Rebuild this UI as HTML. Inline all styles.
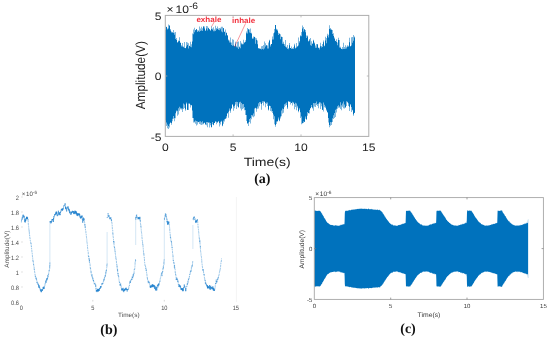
<!DOCTYPE html>
<html lang="en"><head><meta charset="utf-8"><title>Figure</title>
<style>html,body{margin:0;padding:0;background:#fff;}body{width:550px;height:340px;overflow:hidden;font-family:"Liberation Sans",sans-serif;}</style>
</head><body>
<svg width="550" height="340" viewBox="0 0 550 340" style="display:block;text-rendering:geometricPrecision">
<path d="M165.5 76.0V30.1h.5V26.9h.5V26.7h.5V29.4h.5V28.4h.5V24.4h.5V28.6h.5V25.1h.5V26.0h.5V28.9h.5V30.6h.5V31.6h.5V32.5h.5V32.2h.5V32.6h.5V33.0h.5V30.0h.5V32.6h.5V34.8h.5V32.0h.5V39.1h.5V40.1h.5V37.9h.5V42.0h.5V42.7h.5V40.6h.5V41.4h.5V37.2h.5V40.9h.5V42.4h.5V43.1h.5V45.2h.5V46.4h.5V46.4h.5V42.9h.5V47.2h.5V46.5h.5V48.1h.5V42.1h.5V48.2h.5V48.0h.5V42.0h.5V46.4h.5V42.4h.5V45.0h.5V43.2h.5V48.6h.5V45.8h.5V46.1h.5V41.7h.5V46.8h.5V44.3h.5V47.2h.5V41.4h.5V33.6h.5V34.2h.5V29.6h.5V32.3h.5V27.7h.5V30.3h.5V29.9h.5V29.3h.5V28.9h.5V31.9h.5V30.3h.5V31.3h.5V30.3h.5V31.8h.5V26.4h.5V31.1h.5V28.4h.5V30.5h.5V26.8h.5V28.2h.5V31.1h.5V26.8h.5V26.1h.5V26.4h.5V28.5h.5V30.8h.5V30.6h.5V26.1h.5V28.5h.5V30.5h.5V26.3h.5V27.8h.5V28.3h.5V29.4h.5V29.1h.5V30.0h.5V30.9h.5V26.2h.5V28.9h.5V28.4h.5V29.8h.5V27.2h.5V31.2h.5V29.6h.5V31.2h.5V30.9h.5V25.8h.5V28.0h.5V29.4h.5V28.9h.5V26.6h.5V30.0h.5V28.6h.5V28.1h.5V30.2h.5V29.3h.5V27.8h.5V26.8h.5V31.6h.5V26.8h.5V32.2h.5V28.2h.5V27.9h.5V32.0h.5V31.4h.5V29.6h.5V35.4h.5V33.0h.5V32.6h.5V35.8h.5V35.0h.5V39.5h.5V40.6h.5V40.6h.5V42.6h.5V42.6h.5V37.5h.5V42.5h.5V44.9h.5V45.8h.5V39.3h.5V45.6h.5V39.7h.5V46.0h.5V46.2h.5V41.7h.5V43.8h.5V45.7h.5V47.2h.5V42.1h.5V47.4h.5V41.5h.5V49.1h.5V47.3h.5V46.6h.5V41.0h.5V48.2h.5V42.8h.5V44.3h.5V43.7h.5V44.5h.5V39.8h.5V44.2h.5V42.6h.5V42.6h.5V42.0h.5V40.3h.5V33.2h.5V31.5h.5V33.6h.5V28.1h.5V29.3h.5V29.3h.5V29.6h.5V32.6h.5V28.6h.5V33.1h.5V32.7h.5V33.7h.5V37.7h.5V39.1h.5V38.5h.5V36.4h.5V36.9h.5V36.8h.5V43.8h.5V37.8h.5V39.9h.5V38.2h.5V44.3h.5V40.4h.5V48.1h.5V48.4h.5V48.7h.5V48.2h.5V48.5h.5V49.0h.5V46.3h.5V49.4h.5V46.1h.5V49.1h.5V45.1h.5V49.4h.5V48.4h.5V41.5h.5V46.6h.5V43.3h.5V45.1h.5V45.5h.5V48.5h.5V45.6h.5V48.5h.5V42.6h.5V39.8h.5V40.8h.5V46.6h.5V44.7h.5V44.1h.5V43.9h.5V39.4h.5V36.6h.5V39.5h.5V33.3h.5V29.1h.5V32.6h.5V25.1h.5V25.0h.5V29.7h.5V28.8h.5V29.5h.5V30.8h.5V35.0h.5V32.7h.5V33.9h.5V33.2h.5V34.3h.5V39.2h.5V37.0h.5V36.4h.5V36.9h.5V43.8h.5V43.7h.5V41.7h.5V45.8h.5V44.1h.5V40.1h.5V46.7h.5V47.8h.5V46.7h.5V44.9h.5V49.1h.5V48.0h.5V49.2h.5V45.3h.5V43.1h.5V48.0h.5V48.0h.5V46.6h.5V48.9h.5V48.8h.5V48.3h.5V47.2h.5V49.0h.5V43.8h.5V45.6h.5V47.7h.5V48.5h.5V43.1h.5V47.4h.5V46.7h.5V46.0h.5V45.4h.5V37.6h.5V42.4h.5V41.0h.5V35.3h.5V36.3h.5V36.3h.5V32.1h.5V25.4h.5V28.4h.5V27.1h.5V31.4h.5V28.9h.5V29.5h.5V30.1h.5V32.3h.5V35.5h.5V38.0h.5V36.5h.5V35.5h.5V40.7h.5V41.4h.5V40.4h.5V39.1h.5V38.0h.5V45.2h.5V45.7h.5V41.2h.5V43.8h.5V43.4h.5V39.7h.5V40.8h.5V42.5h.5V43.6h.5V47.8h.5V45.5h.5V47.7h.5V44.1h.5V44.1h.5V44.6h.5V47.5h.5V48.0h.5V47.7h.5V49.4h.5V42.8h.5V46.3h.5V47.5h.5V46.0h.5V43.9h.5V47.1h.5V42.2h.5V40.4h.5V45.6h.5V46.2h.5V40.6h.5V36.7h.5V43.2h.5V38.0h.5V35.8h.5V33.8h.5V37.4h.5V34.7h.5V25.3h.5V29.0h.5V29.4h.5V28.1h.5V30.1h.5V29.2h.5V33.9h.5V30.0h.5V36.1h.5V33.2h.5V38.8h.5V37.6h.5V40.9h.5V40.8h.5V41.9h.5V39.2h.5V42.4h.5V45.2h.5V37.7h.5V39.9h.5V40.1h.5V47.4h.5V46.8h.5V48.0h.5V48.7h.5V49.1h.5V46.9h.5V49.2h.5V49.1h.5V42.7h.5V47.1h.5V49.0h.5V45.2h.5V48.7h.5V46.7h.5V48.6h.5V46.7h.5V45.2h.5V45.8h.5V46.7h.5V42.3h.5V37.8h.5V46.5h.5V46.0h.5V45.5h.5V37.2h.5V37.1h.5V42.8h.5V35.1h.5V40.7h.5V37.6h.5V36.6h.5V76.0V113.0h-.5V112.7h-.5V114.2h-.5V115.7h-.5V110.5h-.5V109.8h-.5V112.0h-.5V106.9h-.5V105.2h-.5V104.1h-.5V110.9h-.5V106.7h-.5V105.9h-.5V103.3h-.5V102.6h-.5V101.8h-.5V106.0h-.5V101.3h-.5V108.1h-.5V107.0h-.5V108.4h-.5V104.5h-.5V108.2h-.5V101.4h-.5V106.7h-.5V103.4h-.5V110.2h-.5V105.2h-.5V102.3h-.5V109.1h-.5V107.8h-.5V106.4h-.5V105.3h-.5V107.7h-.5V106.3h-.5V108.8h-.5V112.5h-.5V108.7h-.5V109.7h-.5V117.0h-.5V113.0h-.5V117.9h-.5V115.3h-.5V119.0h-.5V121.9h-.5V118.2h-.5V125.0h-.5V122.2h-.5V121.9h-.5V125.7h-.5V125.1h-.5V127.2h-.5V122.4h-.5V117.9h-.5V112.8h-.5V111.9h-.5V109.6h-.5V110.7h-.5V106.6h-.5V107.9h-.5V104.7h-.5V107.3h-.5V111.6h-.5V102.4h-.5V110.1h-.5V109.8h-.5V103.6h-.5V106.2h-.5V102.6h-.5V109.0h-.5V102.1h-.5V103.4h-.5V103.4h-.5V108.2h-.5V103.9h-.5V106.1h-.5V105.1h-.5V101.6h-.5V106.9h-.5V103.0h-.5V103.3h-.5V106.6h-.5V110.8h-.5V103.1h-.5V107.6h-.5V108.6h-.5V107.1h-.5V105.1h-.5V108.3h-.5V108.2h-.5V113.6h-.5V110.1h-.5V112.9h-.5V113.3h-.5V111.9h-.5V115.7h-.5V118.9h-.5V120.0h-.5V116.5h-.5V118.8h-.5V121.7h-.5V122.1h-.5V121.3h-.5V123.0h-.5V123.5h-.5V122.9h-.5V124.2h-.5V116.4h-.5V112.2h-.5V118.0h-.5V109.7h-.5V108.3h-.5V111.0h-.5V112.2h-.5V107.4h-.5V105.7h-.5V110.3h-.5V103.5h-.5V107.0h-.5V102.7h-.5V109.2h-.5V103.9h-.5V103.2h-.5V102.3h-.5V105.4h-.5V101.7h-.5V103.1h-.5V103.1h-.5V104.5h-.5V101.7h-.5V101.5h-.5V102.0h-.5V101.3h-.5V101.5h-.5V109.1h-.5V107.6h-.5V104.9h-.5V102.5h-.5V103.5h-.5V105.7h-.5V104.3h-.5V107.3h-.5V109.1h-.5V112.8h-.5V113.5h-.5V108.5h-.5V116.3h-.5V110.6h-.5V116.5h-.5V118.4h-.5V120.4h-.5V121.2h-.5V119.6h-.5V117.4h-.5V121.8h-.5V120.9h-.5V121.4h-.5V124.1h-.5V125.0h-.5V126.7h-.5V124.2h-.5V116.2h-.5V119.3h-.5V114.4h-.5V111.1h-.5V113.0h-.5V108.2h-.5V111.6h-.5V106.1h-.5V110.9h-.5V105.9h-.5V105.4h-.5V110.5h-.5V109.5h-.5V102.4h-.5V105.9h-.5V102.6h-.5V104.0h-.5V102.9h-.5V107.3h-.5V101.3h-.5V102.0h-.5V101.3h-.5V105.4h-.5V103.1h-.5V101.3h-.5V104.1h-.5V109.8h-.5V103.5h-.5V101.9h-.5V106.3h-.5V102.1h-.5V108.4h-.5V103.2h-.5V106.4h-.5V108.8h-.5V108.5h-.5V111.7h-.5V108.2h-.5V107.7h-.5V108.4h-.5V116.2h-.5V117.3h-.5V113.5h-.5V115.2h-.5V116.4h-.5V115.1h-.5V119.2h-.5V123.4h-.5V118.0h-.5V119.0h-.5V122.0h-.5V125.9h-.5V122.4h-.5V123.1h-.5V123.9h-.5V120.9h-.5V114.9h-.5V115.1h-.5V110.1h-.5V110.3h-.5V107.0h-.5V108.2h-.5V103.9h-.5V104.3h-.5V109.1h-.5V102.9h-.5V110.5h-.5V108.4h-.5V101.7h-.5V101.9h-.5V103.6h-.5V107.3h-.5V107.6h-.5V106.2h-.5V101.9h-.5V101.8h-.5V108.9h-.5V101.9h-.5V104.5h-.5V105.8h-.5V108.2h-.5V110.7h-.5V106.5h-.5V104.6h-.5V104.5h-.5V108.5h-.5V108.4h-.5V110.5h-.5V112.8h-.5V108.6h-.5V110.8h-.5V111.8h-.5V117.8h-.5V113.0h-.5V113.8h-.5V118.2h-.5V116.2h-.5V118.5h-.5V118.9h-.5V119.3h-.5V121.6h-.5V120.6h-.5V123.7h-.5V125.6h-.5V126.2h-.5V121.7h-.5V120.8h-.5V124.6h-.5V121.8h-.5V123.1h-.5V126.4h-.5V121.3h-.5V121.5h-.5V122.8h-.5V122.2h-.5V121.7h-.5V124.2h-.5V121.6h-.5V121.6h-.5V123.0h-.5V123.1h-.5V125.3h-.5V124.7h-.5V124.3h-.5V121.9h-.5V127.1h-.5V127.4h-.5V125.2h-.5V123.1h-.5V127.5h-.5V122.6h-.5V122.8h-.5V122.5h-.5V127.2h-.5V121.9h-.5V125.3h-.5V122.1h-.5V124.5h-.5V124.6h-.5V123.0h-.5V122.5h-.5V124.3h-.5V123.2h-.5V121.3h-.5V124.4h-.5V122.3h-.5V125.1h-.5V124.6h-.5V121.2h-.5V121.4h-.5V124.0h-.5V122.0h-.5V122.2h-.5V124.6h-.5V121.6h-.5V125.4h-.5V120.9h-.5V120.6h-.5V123.8h-.5V122.5h-.5V121.4h-.5V122.5h-.5V118.0h-.5V117.9h-.5V110.4h-.5V105.2h-.5V105.2h-.5V104.8h-.5V107.5h-.5V103.6h-.5V103.8h-.5V109.9h-.5V103.4h-.5V109.9h-.5V109.8h-.5V103.8h-.5V102.5h-.5V110.7h-.5V109.3h-.5V108.1h-.5V104.5h-.5V108.9h-.5V103.6h-.5V112.1h-.5V108.4h-.5V109.5h-.5V108.2h-.5V107.8h-.5V109.3h-.5V106.8h-.5V110.7h-.5V114.6h-.5V108.3h-.5V115.7h-.5V110.7h-.5V110.5h-.5V111.4h-.5V118.3h-.5V113.3h-.5V117.9h-.5V121.2h-.5V115.9h-.5V118.7h-.5V121.3h-.5V118.7h-.5V124.7h-.5V123.0h-.5V122.9h-.5V122.3h-.5V123.8h-.5V127.5h-.5V125.9h-.5V129.1h-.5V128.2h-.5V124.6h-.5V126.0h-.5V122.6h-.5V120.3h-.5Z" fill="#0072BD"/>
<rect x="165.3" y="15.4" width="203.5" height="121.0" fill="none" stroke="#adadad" stroke-width="1"/>
<path d="M233.1 136.4v-2M233.1 15.4v2" stroke="#adadad" stroke-width="0.8"/>
<path d="M301.0 136.4v-2M301.0 15.4v2" stroke="#adadad" stroke-width="0.8"/>
<path d="M165.3 76.0h2M368.8 76.0h-2" stroke="#adadad" stroke-width="0.8"/>
<g font-family="Liberation Sans, Arial, sans-serif" fill="#222222">
<text transform="translate(161.6 19.5) scale(1.12 1)" font-size="10.8" text-anchor="end">5</text>
<text transform="translate(161.6 80.1) scale(1.12 1)" font-size="10.8" text-anchor="end">0</text>
<text transform="translate(161.6 140.5) scale(1.12 1)" font-size="10.8" text-anchor="end">-5</text>
<text transform="translate(165.3 151.2) scale(1.12 1)" font-size="10.8" text-anchor="middle">0</text>
<text transform="translate(233.1 151.2) scale(1.12 1)" font-size="10.8" text-anchor="middle">5</text>
<text transform="translate(301.0 151.2) scale(1.12 1)" font-size="10.8" text-anchor="middle">10</text>
<text transform="translate(368.8 151.2) scale(1.12 1)" font-size="10.8" text-anchor="middle">15</text>
<text transform="translate(166.6 12.9) scale(1.12 1)" font-size="10.8" text-anchor="start">×<tspan dx="1.6">10</tspan><tspan dy="-4.4" font-size="9.2">-6</tspan></text>
<text transform="translate(267.2 165.8) scale(1.18 1)" font-size="11.9" text-anchor="middle">Time(s)</text>
<text transform="translate(145.0 75.2) scale(1.12 1) rotate(-90)" font-size="11.8" text-anchor="middle">Amplitude(V)</text>
</g>
<g font-family="Liberation Sans, Arial, sans-serif" font-weight="bold" fill="#f2323f" font-size="7.7">
<text x="196.4" y="21.8" textLength="25" lengthAdjust="spacingAndGlyphs">exhale</text>
<text x="232" y="23.1" textLength="23.2" lengthAdjust="spacingAndGlyphs">inhale</text>
</g>
<path d="M214.2 22L211.6 26.5M245.6 23.4L234.5 47" stroke="#f2323f" stroke-width="0.5" fill="none"/>
<text x="262.3" y="183.4" font-family="Liberation Serif, serif" font-weight="bold" font-size="14" text-anchor="middle" fill="#111">(a)</text>
<path d="M21.30 222.43 L21.41 222.41 L21.52 219.73 L21.63 220.36 L21.74 218.75 L21.85 219.01 L21.96 218.50 L22.07 219.57 L22.18 218.61 L22.29 216.47 L22.40 219.23 L22.51 217.00 L22.63 216.02 L22.74 216.55 L22.85 215.79 L22.96 215.06 L23.07 215.90 L23.18 214.69 L23.29 216.05M27.37 218.49 L27.48 219.01 L27.59 217.08 L27.70 219.12 L27.82 219.60 L27.93 219.03 L28.04 220.42 L28.15 219.87 L28.26 222.59 L28.37 224.36 L28.48 225.10 L28.59 225.79 L28.70 227.06 L28.81 228.40 L28.92 229.33 L29.03 230.21 L29.14 231.56 L29.25 230.82 L29.36 233.15 L29.47 235.11 L29.58 235.91 L29.69 235.67 L29.80 236.82 L29.91 238.26 L30.02 238.82 L30.13 238.74 L30.24 240.42 L30.35 240.91 L30.47 240.92 L30.58 242.28 L30.69 242.51 L30.80 242.41 L30.91 243.57 L31.02 244.19 L31.13 243.43 L31.24 245.31 L31.35 246.82 L31.46 246.55 L31.57 247.92 L31.68 250.04 L31.79 250.16 L31.90 251.35 L32.01 252.78 L32.12 252.80 L32.23 253.43 L32.34 254.94 L32.45 256.76 L32.56 256.73 L32.67 257.72 L32.78 259.00 L32.89 260.96 L33.01 260.55 L33.12 262.16 L33.23 262.12 L33.34 261.53 L33.45 263.89 L33.56 264.81 L33.67 264.10 L33.78 265.69 L33.89 266.40 L34.00 266.27 L34.11 266.61 L34.22 270.00 L34.33 269.22 L34.44 269.86 L34.55 271.09 L34.66 272.18 L34.77 272.62 L34.88 272.67 L34.99 274.47 L35.10 274.15 L35.21 274.88 L35.32 276.82 L35.43 276.36 L35.54 275.83 L35.66 277.35 L35.77 277.85 L35.88 277.83 L35.99 279.06 L36.10 277.80 L36.21 277.61 L36.32 279.45 L36.43 279.31 L36.54 278.38 L36.65 280.43 L36.76 280.61 L36.87 282.51 L36.98 283.10 L37.09 283.21 L37.20 281.70 L37.31 284.08 L37.42 283.81 L37.53 283.84 L37.64 283.83 L37.75 284.06 L37.86 284.17 L37.97 282.89 L38.08 284.58 L38.19 284.12 L38.31 285.02 L38.42 284.42 L38.53 286.39 L38.64 284.83 L38.75 285.31M44.05 288.67 L44.16 287.95 L44.27 287.82 L44.38 287.50 L44.49 286.34 L44.60 286.76 L44.71 285.93 L44.82 285.61 L44.93 285.94 L45.04 283.75 L45.15 283.94 L45.26 283.62 L45.37 283.98 L45.48 282.77 L45.59 281.29 L45.70 282.33 L45.81 280.07 L45.92 280.02 L46.04 280.34 L46.15 282.90 L46.26 280.80 L46.37 279.81 L46.48 279.31 L46.59 278.72 L46.70 281.06 L46.81 278.29 L46.92 279.05 L47.03 278.22 L47.14 280.31 L47.25 278.36 L47.36 278.92 L47.47 277.69 L47.58 278.64 L47.69 277.28 L47.80 275.01 L47.91 276.90 L48.02 277.43 L48.13 276.81 L48.24 276.24 L48.35 274.63 L48.46 273.86 L48.57 274.55 L48.69 274.66 L48.80 271.97 L48.91 271.88 L49.02 271.36 L49.13 270.22 L49.24 271.22 L49.35 269.69 L49.46 269.61 L49.57 268.48 L49.68 265.40 L49.79 266.04 L49.90 262.38M83.85 218.24 L83.96 218.61 L84.07 220.28 L84.18 218.95 L84.29 219.72 L84.40 221.52 L84.51 221.66 L84.62 222.46 L84.73 224.40 L84.84 225.63 L84.95 224.27 L85.06 227.47 L85.17 226.00 L85.28 226.70 L85.39 228.01 L85.50 230.11 L85.61 230.08 L85.72 231.10 L85.83 231.28 L85.94 233.30 L86.05 233.72 L86.16 233.87 L86.27 234.96 L86.38 236.15 L86.49 237.46 L86.60 237.64 L86.71 239.21 L86.82 239.65 L86.93 242.17 L87.04 242.26 L87.15 243.18 L87.26 244.31 L87.37 244.70 L87.48 246.16 L87.59 248.40 L87.70 248.55 L87.81 250.42 L87.92 250.63 L88.03 251.19 L88.14 251.63 L88.25 252.42 L88.36 255.50 L88.47 256.84 L88.58 255.99 L88.69 256.16 L88.80 255.98 L88.92 257.75 L89.03 259.26 L89.14 258.23 L89.25 260.39 L89.36 262.18 L89.47 259.78 L89.58 262.86 L89.69 262.96 L89.80 263.07 L89.91 262.94 L90.02 264.51 L90.13 264.70 L90.24 267.69 L90.35 268.71 L90.46 267.85 L90.57 268.56 L90.68 270.04 L90.79 270.28 L90.90 271.02 L91.01 272.58 L91.12 271.53 L91.23 273.37 L91.34 274.35 L91.45 274.75 L91.56 274.90 L91.67 275.54 L91.78 275.09 L91.89 276.37 L92.00 275.11 L92.11 274.44 L92.22 277.02 L92.33 277.65 L92.44 277.11 L92.55 278.07 L92.66 278.27 L92.77 279.24 L92.88 277.77 L92.99 279.62 L93.10 280.38 L93.21 279.92 L93.32 281.20 L93.43 281.10 L93.54 279.98 L93.65 281.78 L93.76 281.22 L93.87 282.97 L93.98 283.08 L94.09 283.24 L94.21 283.07 L94.32 284.31 L94.43 284.29 L94.54 283.59 L94.65 283.86 L94.76 284.05 L94.87 284.21 L94.98 282.89 L95.09 283.64 L95.20 283.84 L95.31 284.08 L95.42 284.89 L95.53 284.70 L95.64 286.96 L95.75 284.79 L95.86 286.64 L95.97 288.20 L96.08 289.51M100.82 286.11 L100.93 286.35 L101.04 286.74 L101.15 287.08 L101.26 287.24 L101.37 287.33 L101.48 286.47 L101.59 285.52 L101.70 284.30 L101.81 283.36 L101.92 283.99 L102.03 283.44 L102.14 284.29 L102.25 284.95 L102.36 283.34 L102.47 282.84 L102.58 282.67 L102.69 283.12 L102.80 284.02 L102.91 283.41 L103.02 282.52 L103.13 282.06 L103.24 282.04 L103.35 281.53 L103.46 281.67 L103.57 282.11 L103.68 280.90 L103.79 279.40 L103.90 280.88 L104.01 279.18 L104.12 278.84 L104.23 278.64 L104.34 279.59 L104.45 277.13 L104.57 277.68 L104.68 277.95 L104.79 277.99 L104.90 277.23 L105.01 276.24 L105.12 276.34 L105.23 274.87 L105.34 276.52 L105.45 276.52 L105.56 274.69 L105.67 274.15 L105.78 272.26 L105.89 273.70 L106.00 271.27 L106.11 271.38 L106.22 270.04 L106.33 271.43 L106.44 269.68 L106.55 269.41 L106.66 269.02 L106.77 267.25 L106.88 264.86 L106.99 264.77 L107.10 263.59M107.10 218.06 L107.21 217.00 L107.32 217.08 L107.43 216.92 L107.54 217.22 L107.65 217.31 L107.76 216.49 L107.87 215.31 L107.98 215.34 L108.09 213.12 L108.20 214.57 L108.31 214.97 L108.43 215.55 L108.54 216.58 L108.65 217.22 L108.76 215.19 L108.87 216.58 L108.98 216.31 L109.09 215.53 L109.20 216.32 L109.31 217.58 L109.42 216.74 L109.53 217.78 L109.64 218.47 L109.75 217.95 L109.86 219.18 L109.97 218.66M111.19 219.28 L111.30 219.86 L111.41 221.06 L111.52 219.53 L111.63 221.69 L111.74 222.49 L111.85 222.43 L111.96 222.61 L112.07 224.67 L112.18 225.06 L112.29 227.43 L112.40 229.02 L112.51 229.85 L112.62 230.18 L112.73 230.18 L112.84 234.13 L112.95 233.36 L113.06 236.32 L113.17 236.49 L113.28 236.87 L113.39 238.63 L113.50 239.41 L113.62 242.00 L113.73 241.32 L113.84 243.48 L113.95 241.54 L114.06 245.20 L114.17 246.36 L114.28 247.06 L114.39 246.82 L114.50 248.11 L114.61 247.25 L114.72 249.08 L114.83 248.82 L114.94 251.10 L115.05 251.94 L115.16 251.17 L115.27 253.31 L115.38 254.31 L115.49 254.32 L115.60 256.37 L115.71 256.79 L115.82 256.42 L115.93 258.82 L116.04 258.31 L116.15 259.64 L116.27 259.60 L116.38 260.95 L116.49 263.02 L116.60 263.46 L116.71 264.56 L116.82 263.96 L116.93 264.67 L117.04 267.31 L117.15 266.33 L117.26 268.53 L117.37 269.42 L117.48 270.96 L117.59 269.18 L117.70 272.16 L117.81 272.05 L117.92 273.80 L118.03 272.82 L118.14 275.90 L118.25 275.26 L118.36 275.08 L118.47 277.04 L118.58 276.96 L118.69 276.32 L118.81 278.76 L118.92 279.29 L119.03 279.89 L119.14 281.19 L119.25 281.31 L119.36 282.39 L119.47 282.26 L119.58 283.16 L119.69 282.30 L119.80 283.02 L119.91 283.36 L120.02 285.72 L120.13 284.12 L120.24 284.70 L120.35 285.08 L120.46 285.61 L120.57 284.63 L120.68 283.36 L120.79 285.62 L120.90 285.25 L121.01 285.28 L121.12 285.34 L121.23 287.83 L121.34 288.09 L121.46 289.54 L121.57 288.53 L121.68 288.13 L121.79 288.55M128.52 288.73 L128.63 288.39 L128.74 288.08 L128.85 286.68 L128.96 286.72 L129.07 286.01 L129.18 285.78 L129.30 285.68 L129.41 286.00 L129.52 284.14 L129.63 283.30 L129.74 283.07 L129.85 283.03 L129.96 280.92 L130.07 282.93 L130.18 282.58 L130.29 281.69 L130.40 283.04 L130.51 282.38 L130.62 280.59 L130.73 281.15 L130.84 280.98 L130.95 280.16 L131.06 280.11 L131.17 279.55 L131.28 280.15 L131.39 280.25 L131.50 279.06 L131.61 278.36 L131.72 278.50 L131.84 278.47 L131.95 279.89 L132.06 277.57 L132.17 276.42 L132.28 276.18 L132.39 276.76 L132.50 277.81 L132.61 277.26 L132.72 278.47 L132.83 276.75 L132.94 276.66 L133.05 275.08 L133.16 274.50 L133.27 276.66 L133.38 274.36 L133.49 275.15 L133.60 275.45 L133.71 274.69 L133.82 273.95 L133.93 272.90 L134.04 273.56 L134.15 270.56 L134.26 268.92 L134.37 269.51 L134.49 269.43 L134.60 269.54 L134.71 269.47 L134.82 267.60 L134.93 266.66 L135.04 264.91 L135.15 262.12 L135.26 262.39 L135.37 261.82 L135.48 259.50 L135.59 260.89 L135.70 260.33M135.70 217.59 L135.81 219.62 L135.92 218.30 L136.03 216.41 L136.14 217.61 L136.25 217.84 L136.36 215.00 L136.47 215.44 L136.58 216.24 L136.69 214.58 L136.80 215.28 L136.91 217.54 L137.03 216.82 L137.14 217.19 L137.25 218.17 L137.36 217.99 L137.47 218.32 L137.58 217.37 L137.69 217.72 L137.80 217.52 L137.91 218.47 L138.02 219.23 L138.13 219.44 L138.24 218.66 L138.35 217.65 L138.46 217.97 L138.57 218.72M139.79 218.86 L139.90 216.89 L140.01 219.02 L140.12 220.13 L140.23 221.18 L140.34 219.76 L140.45 223.26 L140.56 223.68 L140.67 223.93 L140.78 226.42 L140.89 225.43 L141.00 226.64 L141.11 228.88 L141.22 229.59 L141.33 231.15 L141.44 232.14 L141.55 232.54 L141.66 233.44 L141.77 234.01 L141.88 235.64 L141.99 237.65 L142.10 237.88 L142.22 240.61 L142.33 240.40 L142.44 241.01 L142.55 242.04 L142.66 244.24 L142.77 244.95 L142.88 244.12 L142.99 245.50 L143.10 247.69 L143.21 247.97 L143.32 249.64 L143.43 250.56 L143.54 252.52 L143.65 252.49 L143.76 254.21 L143.87 253.34 L143.98 255.27 L144.09 256.57 L144.20 257.30 L144.31 257.12 L144.42 258.84 L144.53 261.76 L144.64 262.09 L144.75 264.11 L144.87 264.43 L144.98 264.68 L145.09 265.80 L145.20 265.72 L145.31 266.25 L145.42 265.83 L145.53 265.98 L145.64 268.04 L145.75 268.45 L145.86 267.79 L145.97 270.60 L146.08 270.50 L146.19 269.24 L146.30 269.88 L146.41 269.81 L146.52 272.03 L146.63 273.11 L146.74 273.79 L146.85 273.70 L146.96 275.22 L147.07 276.15 L147.18 277.29 L147.29 278.30 L147.41 277.48 L147.52 278.68 L147.63 280.49 L147.74 280.40 L147.85 280.44 L147.96 280.52 L148.07 281.99 L148.18 281.53 L148.29 283.17 L148.40 282.58 L148.51 281.27 L148.62 280.83 L148.73 282.32 L148.84 282.23 L148.95 281.56 L149.06 282.53 L149.17 282.81 L149.28 282.58 L149.39 283.32 L149.50 282.33 L149.61 282.57 L149.72 284.70 L149.83 284.78 L149.94 285.47 L150.06 286.69 L150.17 287.13 L150.28 285.74 L150.39 287.72M157.12 287.38 L157.23 286.97 L157.34 287.07 L157.45 284.81 L157.56 285.72 L157.67 284.79 L157.78 285.52 L157.90 286.12 L158.01 284.07 L158.12 287.29 L158.23 285.53 L158.34 284.01 L158.45 285.20 L158.56 283.87 L158.67 285.47 L158.78 285.99 L158.89 283.09 L159.00 285.14 L159.11 284.73 L159.22 284.52 L159.33 283.91 L159.44 282.45 L159.55 282.44 L159.66 281.83 L159.77 281.89 L159.88 280.54 L159.99 281.44 L160.10 280.21 L160.21 278.74 L160.32 278.64 L160.44 277.97 L160.55 277.78 L160.66 277.51 L160.77 276.10 L160.88 275.93 L160.99 275.29 L161.10 275.42 L161.21 274.84 L161.32 274.38 L161.43 273.50 L161.54 272.42 L161.65 273.99 L161.76 274.32 L161.87 274.05 L161.98 276.15 L162.09 274.59 L162.20 273.63 L162.31 272.46 L162.42 273.04 L162.53 271.49 L162.64 271.07 L162.75 271.99 L162.86 269.44 L162.97 268.53 L163.09 268.36 L163.20 269.26 L163.31 266.32 L163.42 267.60 L163.53 266.59 L163.64 264.67 L163.75 263.96 L163.86 261.60 L163.97 261.14 L164.08 259.85 L164.19 259.45 L164.30 259.22M164.30 218.68 L164.41 218.21 L164.52 219.93 L164.63 217.35 L164.74 217.71 L164.85 217.49 L164.96 216.91 L165.07 215.16 L165.18 214.69 L165.29 213.74 L165.40 215.43 L165.51 214.43 L165.63 213.52 L165.74 216.07 L165.85 215.75 L165.96 216.97 L166.07 214.19 L166.18 215.76 L166.29 216.64 L166.40 217.33 L166.51 218.29 L166.62 218.44 L166.73 217.87 L166.84 219.82 L166.95 218.94 L167.06 221.33 L167.17 222.22M168.39 222.24 L168.50 222.23 L168.61 222.07 L168.72 222.59 L168.83 221.18 L168.94 222.58 L169.05 222.02 L169.16 223.66 L169.27 224.11 L169.38 224.37 L169.49 226.70 L169.60 227.62 L169.71 228.40 L169.82 231.23 L169.93 232.39 L170.04 232.85 L170.15 233.83 L170.26 234.95 L170.37 237.68 L170.48 236.40 L170.59 236.99 L170.70 238.05 L170.82 240.30 L170.93 239.88 L171.04 240.44 L171.15 240.67 L171.26 241.75 L171.37 241.05 L171.48 242.84 L171.59 241.95 L171.70 245.53 L171.81 245.34 L171.92 245.16 L172.03 247.86 L172.14 247.14 L172.25 249.93 L172.36 249.85 L172.47 251.61 L172.58 253.19 L172.69 253.52 L172.80 254.64 L172.91 256.34 L173.02 255.74 L173.13 258.92 L173.24 260.91 L173.35 260.19 L173.47 261.31 L173.58 261.25 L173.69 261.35 L173.80 263.54 L173.91 262.55 L174.02 262.87 L174.13 264.22 L174.24 264.34 L174.35 267.57 L174.46 266.29 L174.57 264.91 L174.68 268.52 L174.79 267.77 L174.90 268.43 L175.01 269.01 L175.12 269.24 L175.23 272.66 L175.34 272.24 L175.45 272.35 L175.56 275.01 L175.67 274.45 L175.78 274.35 L175.89 275.80 L176.01 277.51 L176.12 279.89 L176.23 279.17 L176.34 279.03 L176.45 279.20 L176.56 279.79 L176.67 277.23 L176.78 279.24 L176.89 280.10 L177.00 278.75 L177.11 279.16 L177.22 279.86 L177.33 279.56 L177.44 278.79 L177.55 279.37 L177.66 281.68 L177.77 280.12 L177.88 280.42 L177.99 282.12 L178.10 281.19 L178.21 282.24 L178.32 284.45 L178.43 284.17 L178.54 284.19 L178.66 285.37 L178.77 286.55 L178.88 285.72 L178.99 286.65M185.72 291.18 L185.83 288.12 L185.94 288.13 L186.05 288.58 L186.16 287.98 L186.27 287.68 L186.38 287.09 L186.50 286.74 L186.61 286.35 L186.72 286.48 L186.83 286.81 L186.94 285.59 L187.05 284.80 L187.16 284.33 L187.27 283.45 L187.38 284.90 L187.49 283.07 L187.60 282.78 L187.71 282.82 L187.82 283.45 L187.93 281.18 L188.04 282.42 L188.15 280.66 L188.26 280.72 L188.37 278.83 L188.48 279.24 L188.59 279.93 L188.70 278.96 L188.81 279.14 L188.92 278.33 L189.04 279.01 L189.15 278.31 L189.26 277.19 L189.37 276.63 L189.48 276.87 L189.59 274.45 L189.70 274.74 L189.81 274.39 L189.92 274.84 L190.03 274.47 L190.14 273.73 L190.25 273.20 L190.36 270.82 L190.47 271.65 L190.58 271.30 L190.69 271.97 L190.80 271.49 L190.91 270.70 L191.02 270.89 L191.13 271.72 L191.24 269.16 L191.35 269.36 L191.46 266.90 L191.57 266.95 L191.69 265.96 L191.80 265.69 L191.91 266.61 L192.02 266.96 L192.13 267.06 L192.24 265.67 L192.35 264.57 L192.46 265.39 L192.57 263.06 L192.68 262.11 L192.79 260.76 L192.90 260.93M192.90 219.63 L193.01 219.16 L193.12 218.82 L193.23 218.71 L193.34 218.04 L193.45 218.90 L193.56 220.12 L193.67 217.38 L193.78 218.15 L193.89 217.29 L194.00 217.84 L194.11 216.35 L194.23 217.41 L194.34 216.72 L194.45 218.08 L194.56 218.89 L194.67 219.73 L194.78 218.96 L194.89 218.85 L195.00 219.08 L195.11 218.57 L195.22 220.36 L195.33 220.79 L195.44 221.20 L195.55 220.81 L195.66 221.28 L195.77 222.35M196.99 220.12 L197.10 220.56 L197.21 219.52 L197.32 220.76 L197.43 219.40 L197.54 220.55 L197.65 220.93 L197.76 222.98 L197.87 223.38 L197.98 225.42 L198.09 226.99 L198.20 227.88 L198.31 228.45 L198.42 229.16 L198.53 230.38 L198.64 231.76 L198.75 232.38 L198.86 234.73 L198.97 235.22 L199.08 235.94 L199.19 237.17 L199.30 238.85 L199.42 239.42 L199.53 238.76 L199.64 240.10 L199.75 241.99 L199.86 240.19 L199.97 243.00 L200.08 244.74 L200.19 245.42 L200.30 247.56 L200.41 246.33 L200.52 250.51 L200.63 251.43 L200.74 251.70 L200.85 252.57 L200.96 252.64 L201.07 255.68 L201.18 256.07 L201.29 256.30 L201.40 256.69 L201.51 257.64 L201.62 259.32 L201.73 259.17 L201.84 262.37 L201.95 263.36 L202.07 263.79 L202.18 265.28 L202.29 265.62 L202.40 266.88 L202.51 267.29 L202.62 268.91 L202.73 269.73 L202.84 270.17 L202.95 269.50 L203.06 270.89 L203.17 269.03 L203.28 269.17 L203.39 270.35 L203.50 271.87 L203.61 272.87 L203.72 272.79 L203.83 274.09 L203.94 273.98 L204.05 275.22 L204.16 274.19 L204.27 276.64 L204.38 277.10 L204.49 278.73 L204.61 278.80 L204.72 278.52 L204.83 279.89 L204.94 280.63 L205.05 280.09 L205.16 280.48 L205.27 280.10 L205.38 283.63 L205.49 281.81 L205.60 282.48 L205.71 284.09 L205.82 283.95 L205.93 282.89 L206.04 284.43 L206.15 284.23 L206.26 283.97 L206.37 285.22 L206.48 284.39 L206.59 285.70 L206.70 285.61 L206.81 284.61 L206.92 285.34 L207.03 287.12 L207.14 284.68 L207.26 285.92 L207.37 286.89 L207.48 285.46 L207.59 288.30M214.32 290.23 L214.43 290.56 L214.54 290.81 L214.65 288.59 L214.76 289.37 L214.87 289.05 L214.98 288.99 L215.10 287.36 L215.21 286.66 L215.32 284.62 L215.43 284.43 L215.54 283.33 L215.65 283.78 L215.76 283.01 L215.87 284.02 L215.98 282.62 L216.09 281.40 L216.20 279.70 L216.31 282.75 L216.42 282.26 L216.53 281.22 L216.64 281.00 L216.75 282.19 L216.86 281.61 L216.97 282.48 L217.08 280.96 L217.19 279.62 L217.30 279.11 L217.41 280.23 L217.52 279.92 L217.64 279.15 L217.75 278.57 L217.86 278.60 L217.97 279.68 L218.08 277.66 L218.19 277.17 L218.30 277.49 L218.41 278.07 L218.52 276.40 L218.63 276.49 L218.74 275.63 L218.85 275.56 L218.96 275.59 L219.07 274.90 L219.18 274.24 L219.29 273.42 L219.40 272.61 L219.51 271.75 L219.62 270.91 L219.73 271.31 L219.84 270.78 L219.95 270.65 L220.06 269.14 L220.17 269.36 L220.29 269.47 L220.40 266.97 L220.51 266.73 L220.62 266.21 L220.73 264.36 L220.84 264.28 L220.95 262.61 L221.06 262.14 L221.17 261.62 L221.28 261.73 L221.39 261.10 L221.50 258.47" fill="none" stroke="#1f7fcc" stroke-width="0.62" stroke-opacity="0.7" stroke-dasharray="2.6 0.7 1.4 0.6" stroke-linejoin="round"/>
<path d="M23.18 214.69 L23.29 216.05 L23.40 216.47 L23.51 215.99 L23.62 215.92 L23.73 216.16 L23.84 215.90 L23.95 217.74 L24.06 215.81 L24.17 217.33 L24.28 217.70 L24.39 219.19 L24.50 219.62 L24.61 219.33 L24.72 220.57 L24.83 222.02 L24.94 220.46 L25.05 219.38 L25.16 222.55 L25.28 220.00 L25.39 221.01 L25.50 220.57 L25.61 219.56 L25.72 221.05 L25.83 219.61 L25.94 218.28 L26.05 219.54 L26.16 219.30 L26.27 218.61 L26.38 218.90 L26.49 217.10 L26.60 218.85 L26.71 216.89 L26.82 218.48 L26.93 216.70 L27.04 217.47 L27.15 218.94 L27.26 217.46 L27.37 218.49 L27.48 219.01M38.64 284.83 L38.75 285.31 L38.86 285.14 L38.97 287.89 L39.08 285.50 L39.19 287.10 L39.30 287.38 L39.41 287.65 L39.52 287.07 L39.63 286.92 L39.74 288.33 L39.85 288.59 L39.96 288.34 L40.07 288.46 L40.18 289.87 L40.29 290.19 L40.40 290.57 L40.51 290.16 L40.62 289.60 L40.73 290.68 L40.85 289.42 L40.96 290.34 L41.07 291.80 L41.18 290.34 L41.29 292.24 L41.40 291.87 L41.51 292.04 L41.62 291.11 L41.73 290.64 L41.84 290.39 L41.95 289.33 L42.06 290.77 L42.17 289.14 L42.28 290.94 L42.39 289.61 L42.50 289.24 L42.61 289.32 L42.72 289.21 L42.83 289.26 L42.94 288.56 L43.05 287.21 L43.16 286.92 L43.27 288.42 L43.38 288.16 L43.50 288.47 L43.61 287.39 L43.72 289.11 L43.83 286.66 L43.94 288.38 L44.05 288.67 L44.16 287.95M49.90 222.07 L50.01 222.35 L50.12 221.64 L50.23 221.13 L50.34 221.68 L50.45 222.16 L50.56 221.32 L50.67 221.67 L50.78 221.34 L50.89 223.44 L51.00 222.76 L51.11 222.61 L51.22 221.91 L51.33 222.54 L51.44 222.35 L51.55 221.20 L51.66 220.88 L51.77 221.94 L51.88 219.95 L51.99 219.54 L52.10 220.25 L52.21 219.29 L52.32 220.31 L52.43 219.03 L52.55 219.53 L52.66 219.71 L52.77 219.62 L52.88 220.00 L52.99 219.43 L53.10 219.19 L53.21 219.97 L53.32 220.15 L53.43 222.00 L53.54 218.06 L53.65 219.26 L53.76 216.89 L53.87 216.36 L53.98 216.89 L54.09 217.29 L54.20 216.24 L54.31 216.04 L54.42 215.63 L54.53 215.45 L54.64 215.75 L54.75 214.30 L54.86 215.03 L54.97 214.16 L55.08 215.12 L55.19 214.95 L55.30 214.86 L55.41 213.60 L55.52 213.02 L55.63 213.16 L55.74 214.34 L55.85 214.28 L55.96 212.05 L56.07 213.29 L56.18 213.10 L56.29 211.38 L56.40 212.09 L56.51 212.94 L56.62 214.31 L56.73 212.02 L56.84 214.06 L56.95 213.94 L57.06 214.42 L57.17 215.99 L57.28 216.17 L57.39 214.76 L57.50 214.82 L57.61 215.02 L57.73 215.30 L57.84 215.53 L57.95 214.71 L58.06 215.07 L58.17 212.51 L58.28 212.49 L58.39 210.72 L58.50 212.34 L58.61 213.13 L58.72 212.91 L58.83 214.70 L58.94 212.78 L59.05 212.52 L59.16 212.52 L59.27 213.10 L59.38 212.63 L59.49 213.83 L59.60 213.78 L59.71 212.98 L59.82 215.15 L59.93 213.94 L60.04 215.15 L60.15 212.21 L60.26 212.06 L60.37 212.17 L60.48 212.98 L60.59 211.77 L60.70 211.55 L60.81 211.11 L60.92 211.55 L61.03 210.05 L61.14 209.76 L61.25 209.39 L61.36 209.20 L61.47 210.22 L61.58 209.33 L61.69 209.13 L61.80 208.59 L61.91 210.14 L62.02 209.28 L62.13 210.11 L62.24 210.81 L62.35 209.07 L62.46 210.23 L62.57 208.45 L62.68 209.26 L62.79 210.11 L62.91 209.39 L63.02 208.60 L63.13 208.44 L63.24 209.23 L63.35 207.96 L63.46 207.67 L63.57 206.85 L63.68 206.62 L63.79 205.71 L63.90 206.19 L64.01 205.46 L64.12 205.25 L64.23 205.17 L64.34 205.23 L64.45 205.52 L64.56 205.36 L64.67 205.11 L64.78 204.83 L64.89 204.95 L65.00 204.59 L65.11 203.28 L65.22 205.87 L65.33 205.98 L65.44 206.09 L65.55 209.14 L65.66 206.91 L65.77 207.95 L65.88 206.93 L65.99 208.83 L66.10 209.06 L66.21 208.33 L66.32 208.62 L66.43 210.10 L66.54 209.89 L66.65 211.50 L66.76 210.49 L66.87 209.49 L66.98 208.46 L67.09 208.29 L67.20 208.69 L67.31 207.52 L67.42 207.45 L67.53 206.73 L67.64 207.22 L67.75 207.81 L67.86 208.11 L67.97 207.49 L68.08 207.15 L68.20 206.43 L68.31 207.26 L68.42 208.93 L68.53 208.56 L68.64 209.90 L68.75 208.66 L68.86 209.58 L68.97 210.75 L69.08 209.11 L69.19 209.99 L69.30 211.64 L69.41 210.54 L69.52 210.37 L69.63 213.10 L69.74 211.95 L69.85 212.36 L69.96 211.73 L70.07 211.73 L70.18 213.60 L70.29 214.04 L70.40 214.26 L70.51 214.38 L70.62 213.91 L70.73 214.24 L70.84 213.49 L70.95 211.67 L71.06 211.91 L71.17 212.03 L71.28 214.49 L71.39 213.63 L71.50 213.37 L71.61 212.18 L71.72 212.98 L71.83 211.55 L71.94 212.23 L72.05 212.28 L72.16 212.56 L72.27 212.03 L72.38 212.22 L72.49 210.82 L72.60 212.27 L72.71 212.16 L72.82 211.76 L72.93 210.99 L73.04 211.27 L73.15 211.97 L73.26 211.72 L73.38 212.04 L73.49 212.59 L73.60 211.38 L73.71 212.42 L73.82 214.06 L73.93 211.42 L74.04 213.26 L74.15 214.10 L74.26 213.27 L74.37 213.72 L74.48 211.83 L74.59 212.27 L74.70 212.75 L74.81 211.82 L74.92 212.34 L75.03 210.56 L75.14 212.52 L75.25 213.38 L75.36 211.40 L75.47 212.03 L75.58 211.26 L75.69 212.94 L75.80 212.13 L75.91 211.37 L76.02 214.25 L76.13 212.48 L76.24 213.85 L76.35 211.58 L76.46 213.63 L76.57 213.86 L76.68 213.31 L76.79 214.09 L76.90 215.31 L77.01 213.89 L77.12 214.70 L77.23 215.87 L77.34 212.95 L77.45 214.05 L77.56 214.97 L77.67 213.88 L77.78 215.85 L77.89 216.13 L78.00 215.28 L78.11 215.00 L78.22 214.57 L78.33 213.53 L78.44 214.55 L78.56 213.82 L78.67 213.66 L78.78 214.82 L78.89 213.82 L79.00 215.41 L79.11 213.35 L79.22 213.91 L79.33 214.11 L79.44 214.71 L79.55 213.89 L79.66 215.55 L79.77 214.62 L79.88 216.25 L79.99 217.11 L80.10 216.28 L80.21 216.79 L80.32 218.07 L80.43 216.81 L80.54 218.43 L80.65 217.98 L80.76 217.89 L80.87 218.08 L80.98 217.65 L81.09 217.24 L81.20 215.74 L81.31 216.82 L81.42 218.11 L81.53 216.46 L81.64 216.65 L81.75 216.87 L81.86 216.38 L81.97 217.11 L82.08 215.46 L82.19 218.55 L82.30 219.54 L82.41 219.26 L82.52 220.62 L82.63 220.65 L82.74 222.81 L82.85 218.88 L82.96 218.81 L83.07 218.93 L83.18 219.03 L83.29 217.53 L83.40 219.42 L83.51 218.97 L83.62 220.81 L83.74 219.56 L83.85 218.24 L83.96 218.61M95.97 288.20 L96.08 289.51 L96.19 289.56 L96.30 291.51 L96.41 290.95 L96.52 290.00 L96.63 290.78 L96.74 290.63 L96.85 290.18 L96.96 292.10 L97.07 291.51 L97.18 291.73 L97.29 291.69 L97.40 289.94 L97.51 290.85 L97.62 289.16 L97.73 290.42 L97.84 288.77 L97.95 291.07 L98.06 290.02 L98.17 291.35 L98.28 291.70 L98.39 290.24 L98.50 289.25 L98.61 290.56 L98.72 289.00 L98.83 290.98 L98.94 290.08 L99.05 289.90 L99.16 289.36 L99.27 290.71 L99.39 287.97 L99.50 288.05 L99.61 288.06 L99.72 288.61 L99.83 289.04 L99.94 288.92 L100.05 287.93 L100.16 288.51 L100.27 288.30 L100.38 287.38 L100.49 286.16 L100.60 287.98 L100.71 287.34 L100.82 286.11 L100.93 286.35M109.86 219.18 L109.97 218.66 L110.08 217.98 L110.19 217.58 L110.30 218.54 L110.41 218.68 L110.52 218.12 L110.63 217.95 L110.74 217.76 L110.85 217.38 L110.96 218.97 L111.08 219.35 L111.19 219.28 L111.30 219.86M121.68 288.13 L121.79 288.55 L121.90 290.65 L122.01 289.76 L122.12 288.69 L122.23 289.79 L122.34 288.68 L122.45 289.77 L122.56 290.15 L122.67 289.85 L122.78 289.40 L122.89 290.15 L123.00 290.02 L123.11 287.83 L123.22 291.21 L123.33 290.98 L123.44 289.85 L123.55 290.60 L123.66 291.51 L123.77 292.15 L123.88 291.11 L123.99 290.36 L124.11 289.99 L124.22 290.69 L124.33 289.04 L124.44 290.74 L124.55 289.44 L124.66 289.55 L124.77 289.15 L124.88 289.22 L124.99 289.05 L125.10 290.49 L125.21 288.34 L125.32 289.30 L125.43 289.83 L125.54 288.72 L125.65 289.02 L125.76 288.31 L125.87 288.47 L125.98 288.44 L126.09 287.61 L126.20 288.95 L126.31 288.56 L126.42 289.85 L126.53 289.05 L126.65 289.63 L126.76 289.35 L126.87 288.93 L126.98 289.00 L127.09 291.12 L127.20 291.50 L127.31 290.22 L127.42 289.20 L127.53 289.75 L127.64 289.19 L127.75 289.01 L127.86 289.02 L127.97 289.79 L128.08 289.96 L128.19 289.91 L128.30 289.10 L128.41 288.83 L128.52 288.73 L128.63 288.39M138.46 217.97 L138.57 218.72 L138.68 217.50 L138.79 218.96 L138.90 217.06 L139.01 218.24 L139.12 217.72 L139.23 217.63 L139.34 218.15 L139.45 218.25 L139.56 219.34 L139.68 218.76 L139.79 218.86 L139.90 216.89M150.28 285.74 L150.39 287.72 L150.50 285.59 L150.61 286.16 L150.72 287.35 L150.83 287.01 L150.94 287.13 L151.05 286.11 L151.16 287.52 L151.27 287.12 L151.38 286.77 L151.49 285.17 L151.60 286.08 L151.71 286.94 L151.82 286.58 L151.93 286.40 L152.04 285.87 L152.15 286.47 L152.26 284.10 L152.37 287.15 L152.48 284.67 L152.59 285.79 L152.71 286.30 L152.82 285.96 L152.93 286.43 L153.04 285.33 L153.15 284.61 L153.26 287.23 L153.37 285.02 L153.48 286.26 L153.59 285.23 L153.70 285.47 L153.81 284.90 L153.92 285.35 L154.03 285.67 L154.14 286.17 L154.25 287.17 L154.36 286.34 L154.47 285.96 L154.58 285.27 L154.69 288.93 L154.80 287.55 L154.91 286.31 L155.02 288.35 L155.13 288.04 L155.25 286.63 L155.36 288.32 L155.47 290.27 L155.58 288.18 L155.69 288.07 L155.80 288.45 L155.91 288.78 L156.02 289.45 L156.13 290.59 L156.24 289.77 L156.35 288.61 L156.46 288.78 L156.57 286.82 L156.68 288.49 L156.79 290.36 L156.90 287.76 L157.01 287.65 L157.12 287.38 L157.23 286.97M167.06 221.33 L167.17 222.22 L167.28 220.81 L167.39 222.65 L167.50 222.75 L167.61 223.43 L167.72 224.84 L167.83 222.49 L167.94 224.10 L168.05 221.49 L168.16 223.40 L168.28 224.38 L168.39 222.24 L168.50 222.23M178.88 285.72 L178.99 286.65 L179.10 286.53 L179.21 284.38 L179.32 285.13 L179.43 285.09 L179.54 285.99 L179.65 285.62 L179.76 287.08 L179.87 286.68 L179.98 285.98 L180.09 286.59 L180.20 285.38 L180.31 287.59 L180.42 287.33 L180.53 286.51 L180.64 286.75 L180.75 288.33 L180.86 288.52 L180.97 289.64 L181.08 288.20 L181.19 288.24 L181.31 289.46 L181.42 288.57 L181.53 289.10 L181.64 288.61 L181.75 290.05 L181.86 288.80 L181.97 289.82 L182.08 288.01 L182.19 288.69 L182.30 290.26 L182.41 288.87 L182.52 288.92 L182.63 290.41 L182.74 288.49 L182.85 291.26 L182.96 289.34 L183.07 288.63 L183.18 291.07 L183.29 288.32 L183.40 288.26 L183.51 287.99 L183.62 288.33 L183.73 287.19 L183.85 287.59 L183.96 287.51 L184.07 287.08 L184.18 287.45 L184.29 284.52 L184.40 286.60 L184.51 286.62 L184.62 286.46 L184.73 286.28 L184.84 286.81 L184.95 286.52 L185.06 287.75 L185.17 287.89 L185.28 288.00 L185.39 288.02 L185.50 288.45 L185.61 289.64 L185.72 291.18 L185.83 288.12M195.66 221.28 L195.77 222.35 L195.88 220.29 L195.99 223.04 L196.10 221.41 L196.21 220.57 L196.32 221.13 L196.43 221.88 L196.54 220.92 L196.65 221.16 L196.76 221.46 L196.88 220.59 L196.99 220.12 L197.10 220.56M207.48 285.46 L207.59 288.30 L207.70 286.35 L207.81 288.02 L207.92 286.84 L208.03 288.05 L208.14 288.37 L208.25 286.67 L208.36 286.67 L208.47 286.73 L208.58 286.21 L208.69 287.97 L208.80 286.73 L208.91 286.99 L209.02 287.90 L209.13 288.39 L209.24 287.24 L209.35 286.13 L209.46 285.04 L209.57 286.23 L209.68 287.76 L209.79 286.47 L209.91 289.18 L210.02 287.97 L210.13 289.25 L210.24 289.90 L210.35 288.17 L210.46 287.49 L210.57 286.11 L210.68 285.69 L210.79 287.99 L210.90 286.86 L211.01 287.51 L211.12 289.28 L211.23 289.12 L211.34 287.45 L211.45 288.41 L211.56 287.79 L211.67 287.59 L211.78 287.75 L211.89 287.77 L212.00 286.94 L212.11 287.36 L212.22 288.50 L212.33 288.99 L212.45 287.75 L212.56 288.87 L212.67 287.95 L212.78 286.65 L212.89 286.27 L213.00 288.42 L213.11 290.06 L213.22 288.31 L213.33 290.41 L213.44 289.83 L213.55 287.81 L213.66 288.27 L213.77 290.16 L213.88 290.66 L213.99 288.62 L214.10 289.78 L214.21 290.95 L214.32 290.23 L214.43 290.56" fill="none" stroke="#1f7fcc" stroke-width="0.7" stroke-opacity="0.8" stroke-linejoin="round"/>
<path d="M49.90 221V269M107.10 232V267M135.70 217V245M164.30 219V265M192.90 225V249" fill="none" stroke="#1f7fcc" stroke-width="0.5" stroke-opacity="0.38"/>
<g font-family="Liberation Sans, Arial, sans-serif" fill="#4a4a4a" font-size="5.8">
<text transform="translate(18.9 199.8) scale(0.9 1)" font-size="6.3" text-anchor="end">2</text>
<text transform="translate(18.9 214.7) scale(0.9 1)" font-size="6.3" text-anchor="end">1.8</text>
<text transform="translate(18.9 229.7) scale(0.9 1)" font-size="6.3" text-anchor="end">1.6</text>
<text transform="translate(18.9 244.7) scale(0.9 1)" font-size="6.3" text-anchor="end">1.4</text>
<text transform="translate(18.9 259.7) scale(0.9 1)" font-size="6.3" text-anchor="end">1.2</text>
<text transform="translate(18.9 274.7) scale(0.9 1)" font-size="6.3" text-anchor="end">1</text>
<text transform="translate(18.9 289.7) scale(0.9 1)" font-size="6.3" text-anchor="end">0.8</text>
<text transform="translate(18.9 304.7) scale(0.9 1)" font-size="6.3" text-anchor="end">0.6</text>
<text transform="translate(21.3 309.8) scale(0.9 1)" font-size="6.3" text-anchor="middle">0</text>
<text transform="translate(92.8 309.8) scale(0.9 1)" font-size="6.3" text-anchor="middle">5</text>
<text transform="translate(164.3 309.8) scale(0.9 1)" font-size="6.3" text-anchor="middle">10</text>
<text transform="translate(235.8 309.8) scale(0.9 1)" font-size="6.3" text-anchor="middle">15</text>
<text transform="translate(21.8 196.4) scale(0.98 1)" font-size="6.3" text-anchor="start">×<tspan dx="0.6">10</tspan><tspan dy="-2.8" font-size="4.8">-6</tspan></text>
<text x="128.8" y="317.4" font-size="6.2" text-anchor="middle" textLength="21.6" lengthAdjust="spacingAndGlyphs">Time(s)</text>
<text transform="translate(8.5 249.2) rotate(-90)" font-size="6.4" text-anchor="middle">Amplitude(V)</text>
</g>
<path d="M21.3 197.0h1.4M21.3 212.0h1.4M21.3 227.0h1.4M21.3 242.0h1.4M21.3 257.0h1.4M21.3 272.0h1.4M21.3 287.0h1.4M92.8 301.5v-1.6M164.3 301.5v-1.6" stroke="#bdbdbd" stroke-width="0.6"/>
<path d="M236.4 197V302" stroke="#f1f1f1" stroke-width="0.8"/>
<text x="108.8" y="333.6" font-family="Liberation Serif, serif" font-weight="bold" font-size="14" text-anchor="middle" fill="#111">(b)</text>
<polygon points="314.30,210.9 314.48,210.6 314.66,210.7 314.84,210.7 315.01,209.9 315.19,211.0 315.37,210.4 315.55,210.6 315.73,210.8 315.91,210.8 316.08,210.9 316.26,210.7 316.44,210.8 316.62,211.1 316.80,210.9 316.98,210.8 317.15,211.0 317.33,211.1 317.51,210.5 317.69,211.0 317.87,211.0 318.05,211.1 318.22,211.1 318.40,210.9 318.58,210.7 318.76,210.6 318.94,210.4 319.12,210.6 319.29,210.9 319.47,210.4 319.65,210.9 319.83,211.0 320.01,210.7 320.19,211.1 320.36,211.4 320.54,211.2 320.72,211.8 320.90,211.9 321.08,212.3 321.26,212.4 321.43,213.2 321.61,213.3 321.79,213.4 321.97,213.3 322.15,213.7 322.33,214.6 322.50,214.8 322.68,215.2 322.86,215.1 323.04,215.7 323.22,216.1 323.40,215.8 323.57,216.1 323.75,217.0 323.93,217.4 324.11,217.4 324.29,218.1 324.47,218.2 324.64,218.0 324.82,218.7 325.00,219.1 325.18,218.8 325.36,220.0 325.54,219.7 325.71,219.5 325.89,220.4 326.07,221.3 326.25,220.8 326.43,221.6 326.61,221.7 326.78,221.8 326.96,222.0 327.14,222.6 327.32,222.5 327.50,222.7 327.68,223.1 327.85,223.1 328.03,223.2 328.21,223.6 328.39,223.4 328.57,223.8 328.75,223.1 328.92,223.3 329.10,223.9 329.28,224.3 329.46,224.1 329.64,224.3 329.82,224.6 329.99,224.5 330.17,224.5 330.35,224.9 330.53,224.7 330.71,224.9 330.89,225.0 331.06,224.8 331.24,225.0 331.42,225.1 331.60,224.9 331.78,224.9 331.96,225.3 332.13,225.2 332.31,225.1 332.49,225.2 332.67,225.1 332.85,225.1 333.03,225.2 333.20,225.2 333.38,225.7 333.56,225.4 333.74,225.3 333.92,225.7 334.10,225.8 334.27,225.5 334.45,225.6 334.63,225.2 334.81,225.8 334.99,225.8 335.17,225.0 335.34,225.7 335.52,225.3 335.70,224.8 335.88,225.6 336.06,225.8 336.24,225.5 336.41,225.7 336.59,225.3 336.77,225.3 336.95,225.5 337.13,225.4 337.31,225.8 337.48,225.7 337.66,225.7 337.84,225.6 338.02,225.9 338.20,225.9 338.38,225.3 338.55,225.7 338.73,225.9 338.91,225.4 339.09,225.9 339.27,225.5 339.45,225.7 339.62,225.4 339.80,225.4 339.98,225.0 340.16,225.5 340.34,225.4 340.52,225.1 340.69,224.8 340.87,224.5 341.05,225.3 341.23,225.0 341.41,224.7 341.59,224.5 341.76,224.7 341.94,224.9 342.12,224.6 342.30,224.7 342.48,224.4 342.66,224.4 342.83,224.5 343.01,224.6 343.19,223.8 343.37,224.4 343.55,224.4 343.73,224.0 343.90,224.5 344.08,224.5 344.26,224.1 344.44,224.3 344.62,221.0 344.80,213.4 344.97,211.4 345.15,211.3 345.33,211.0 345.51,211.2 345.69,210.8 345.87,210.5 346.04,210.7 346.22,211.1 346.40,210.6 346.58,211.1 346.76,210.7 346.94,210.4 347.11,210.8 347.29,211.0 347.47,210.9 347.65,210.8 347.83,210.2 348.01,210.8 348.18,210.7 348.36,210.4 348.54,210.7 348.72,210.0 348.90,210.1 349.08,210.5 349.25,209.8 349.43,210.2 349.61,210.1 349.79,210.4 349.97,209.8 350.15,210.4 350.32,210.1 350.50,210.3 350.68,210.3 350.86,210.4 351.04,209.5 351.22,210.1 351.39,209.7 351.57,209.8 351.75,209.6 351.93,210.2 352.11,209.6 352.29,209.7 352.46,209.5 352.64,209.8 352.82,209.7 353.00,209.8 353.18,209.8 353.36,209.3 353.53,209.4 353.71,209.4 353.89,209.7 354.07,209.1 354.25,209.7 354.43,209.3 354.60,209.8 354.78,209.5 354.96,209.4 355.14,209.3 355.32,209.4 355.50,209.6 355.67,209.1 355.85,209.2 356.03,209.3 356.21,209.2 356.39,209.2 356.57,208.7 356.74,209.3 356.92,209.3 357.10,208.9 357.28,208.9 357.46,209.3 357.64,208.6 357.81,208.9 357.99,209.0 358.17,209.3 358.35,208.6 358.53,208.8 358.71,209.0 358.88,209.0 359.06,209.0 359.24,208.8 359.42,208.6 359.60,208.6 359.78,209.0 359.95,208.9 360.13,208.6 360.31,208.7 360.49,208.8 360.67,209.0 360.85,208.6 361.02,208.7 361.20,208.4 361.38,208.8 361.56,208.6 361.74,208.9 361.92,208.5 362.09,208.9 362.27,208.8 362.45,209.1 362.63,208.9 362.81,208.6 362.99,208.6 363.16,209.1 363.34,208.9 363.52,208.3 363.70,209.1 363.88,209.0 364.06,209.2 364.23,208.7 364.41,208.8 364.59,208.6 364.77,209.0 364.95,208.5 365.13,208.3 365.30,209.1 365.48,209.1 365.66,209.2 365.84,208.9 366.02,209.1 366.20,208.6 366.37,209.3 366.55,209.1 366.73,209.0 366.91,208.8 367.09,209.1 367.27,209.3 367.44,209.3 367.62,209.2 367.80,209.3 367.98,208.7 368.16,208.1 368.34,209.1 368.51,208.8 368.69,208.7 368.87,209.0 369.05,209.3 369.23,209.0 369.41,209.2 369.58,208.9 369.76,209.4 369.94,209.3 370.12,209.3 370.30,209.3 370.48,209.0 370.65,209.3 370.83,209.2 371.01,209.3 371.19,209.2 371.37,209.1 371.55,209.5 371.72,208.4 371.90,209.2 372.08,209.4 372.26,209.4 372.44,209.7 372.62,209.0 372.79,209.1 372.97,209.5 373.15,209.7 373.33,209.6 373.51,209.7 373.69,209.2 373.86,209.8 374.04,209.2 374.22,209.7 374.40,209.4 374.58,209.7 374.76,209.7 374.93,209.7 375.11,209.9 375.29,209.7 375.47,209.2 375.65,209.6 375.83,209.8 376.00,209.9 376.18,209.9 376.36,209.2 376.54,209.9 376.72,210.0 376.90,209.8 377.07,209.8 377.25,210.1 377.43,209.5 377.61,209.2 377.79,209.6 377.97,210.1 378.14,209.8 378.32,210.2 378.50,210.2 378.68,210.0 378.86,210.0 379.04,209.7 379.21,209.8 379.39,209.9 379.57,210.3 379.75,209.3 379.93,210.4 380.11,209.8 380.28,210.5 380.46,210.6 380.64,211.0 380.82,211.1 381.00,211.0 381.18,211.1 381.35,211.6 381.53,211.2 381.71,211.7 381.89,212.0 382.07,212.1 382.25,212.1 382.42,212.3 382.60,213.1 382.78,213.2 382.96,213.7 383.14,213.8 383.32,213.5 383.49,214.3 383.67,213.9 383.85,215.1 384.03,215.3 384.21,215.6 384.39,215.2 384.56,215.8 384.74,216.4 384.92,216.7 385.10,216.3 385.28,217.2 385.46,217.5 385.64,217.3 385.81,217.9 385.99,217.9 386.17,218.7 386.35,218.5 386.53,219.0 386.71,218.9 386.88,219.5 387.06,219.7 387.24,220.1 387.42,220.1 387.60,220.2 387.78,220.7 387.95,220.7 388.13,221.3 388.31,221.4 388.49,220.7 388.67,221.9 388.85,221.7 389.02,222.4 389.20,222.5 389.38,222.8 389.56,222.9 389.74,222.8 389.92,223.3 390.09,223.3 390.27,223.6 390.45,223.8 390.63,223.9 390.81,224.1 390.99,224.2 391.16,224.4 391.34,224.4 391.52,224.2 391.70,224.5 391.88,224.7 392.06,224.8 392.23,224.0 392.41,225.2 392.59,224.3 392.77,224.7 392.95,225.3 393.13,225.4 393.30,225.3 393.48,225.1 393.66,225.6 393.84,225.7 394.02,225.4 394.20,225.7 394.37,225.5 394.55,225.6 394.73,225.3 394.91,224.9 395.09,225.8 395.27,225.6 395.44,225.8 395.62,225.3 395.80,225.3 395.98,225.9 396.16,225.6 396.34,225.4 396.51,226.0 396.69,226.0 396.87,225.7 397.05,226.0 397.23,225.7 397.41,225.5 397.58,225.8 397.76,225.5 397.94,225.4 398.12,225.5 398.30,225.0 398.48,225.1 398.65,224.9 398.83,225.0 399.01,225.2 399.19,224.8 399.37,225.1 399.55,225.2 399.72,224.9 399.90,224.8 400.08,224.9 400.26,224.9 400.44,224.8 400.62,224.8 400.79,224.4 400.97,224.6 401.15,224.2 401.33,224.4 401.51,224.4 401.69,224.3 401.86,224.2 402.04,223.2 402.22,224.3 402.40,224.3 402.58,223.9 402.76,223.6 402.93,223.9 403.11,223.7 403.29,223.6 403.47,223.9 403.65,223.7 403.83,223.5 404.00,223.7 404.18,223.4 404.36,223.5 404.54,223.1 404.72,223.2 404.90,223.2 405.07,222.7 405.25,223.1 405.43,223.2 405.61,222.9 405.79,217.1 405.97,210.9 406.14,210.8 406.32,211.0 406.50,210.8 406.68,210.8 406.86,211.1 407.04,210.8 407.21,210.7 407.39,210.8 407.57,210.8 407.75,210.9 407.93,211.0 408.11,210.5 408.28,211.0 408.46,210.9 408.64,210.9 408.82,210.3 409.00,210.2 409.18,211.0 409.35,210.9 409.53,211.1 409.71,210.1 409.89,210.6 410.07,210.8 410.25,210.7 410.42,211.2 410.60,211.5 410.78,212.0 410.96,212.2 411.14,212.3 411.32,212.5 411.49,212.4 411.67,212.9 411.85,213.5 412.03,213.1 412.21,213.7 412.39,214.0 412.56,214.6 412.74,214.8 412.92,215.0 413.10,215.2 413.28,215.5 413.46,215.6 413.63,216.0 413.81,216.7 413.99,216.3 414.17,217.2 414.35,217.3 414.53,217.2 414.70,217.7 414.88,218.1 415.06,218.4 415.24,218.8 415.42,219.0 415.60,219.2 415.77,219.0 415.95,219.7 416.13,220.0 416.31,219.9 416.49,220.4 416.67,220.5 416.84,221.0 417.02,221.4 417.20,221.5 417.38,221.6 417.56,221.6 417.74,221.9 417.91,222.2 418.09,222.4 418.27,222.2 418.45,222.7 418.63,222.9 418.81,222.8 418.98,222.9 419.16,223.3 419.34,223.2 419.52,223.6 419.70,223.5 419.88,223.8 420.05,224.2 420.23,224.2 420.41,224.1 420.59,224.3 420.77,224.7 420.95,224.5 421.12,224.5 421.30,224.1 421.48,224.6 421.66,224.3 421.84,225.0 422.02,225.0 422.19,224.8 422.37,225.3 422.55,225.4 422.73,225.4 422.91,225.4 423.09,225.6 423.26,225.6 423.44,225.7 423.62,225.6 423.80,225.3 423.98,225.8 424.16,225.8 424.33,225.6 424.51,225.5 424.69,225.3 424.87,225.7 425.05,225.5 425.23,225.7 425.40,225.7 425.58,225.9 425.76,225.8 425.94,225.3 426.12,225.7 426.30,225.6 426.47,225.8 426.65,225.9 426.83,225.6 427.01,225.7 427.19,225.3 427.37,225.9 427.54,225.7 427.72,225.7 427.90,225.5 428.08,225.1 428.26,225.6 428.44,225.4 428.61,225.5 428.79,225.4 428.97,225.4 429.15,225.1 429.33,224.3 429.51,225.1 429.68,224.8 429.86,225.1 430.04,224.2 430.22,225.0 430.40,224.2 430.58,224.1 430.75,224.8 430.93,224.3 431.11,224.4 431.29,224.4 431.47,224.4 431.65,224.6 431.82,224.0 432.00,224.2 432.18,223.8 432.36,223.8 432.54,224.3 432.72,223.8 432.89,223.4 433.07,223.4 433.25,223.4 433.43,223.5 433.61,223.3 433.79,223.8 433.96,223.7 434.14,223.7 434.32,223.6 434.50,223.0 434.68,223.5 434.86,222.8 435.03,222.6 435.21,223.0 435.39,222.9 435.57,223.2 435.75,222.9 435.93,223.2 436.10,223.0 436.28,219.0 436.46,211.8 436.64,210.8 436.82,210.7 437.00,211.1 437.17,210.2 437.35,210.8 437.53,210.8 437.71,211.1 437.89,210.8 438.07,210.5 438.24,211.0 438.42,210.7 438.60,211.0 438.78,210.7 438.96,210.6 439.14,210.5 439.31,210.8 439.49,211.0 439.67,210.5 439.85,210.4 440.03,210.8 440.21,211.0 440.38,210.3 440.56,210.5 440.74,210.7 440.92,211.3 441.10,211.5 441.28,211.7 441.45,211.5 441.63,212.1 441.81,212.7 441.99,212.9 442.17,212.7 442.35,213.3 442.52,213.8 442.70,214.0 442.88,214.2 443.06,214.6 443.24,214.6 443.42,215.2 443.59,214.9 443.77,215.4 443.95,215.9 444.13,215.7 444.31,216.5 444.49,216.6 444.66,216.6 444.84,217.1 445.02,217.5 445.20,217.2 445.38,217.7 445.56,218.2 445.73,218.5 445.91,218.5 446.09,219.4 446.27,219.5 446.45,219.7 446.63,220.1 446.80,219.8 446.98,220.2 447.16,220.6 447.34,221.0 447.52,221.2 447.70,220.9 447.87,221.3 448.05,221.5 448.23,221.9 448.41,221.8 448.59,222.2 448.77,221.8 448.94,222.1 449.12,222.9 449.30,222.7 449.48,222.8 449.66,223.1 449.84,222.9 450.01,223.2 450.19,223.6 450.37,223.3 450.55,223.9 450.73,224.3 450.91,223.6 451.08,224.6 451.26,224.5 451.44,224.5 451.62,224.5 451.80,224.2 451.98,224.7 452.15,225.0 452.33,224.9 452.51,224.8 452.69,224.8 452.87,224.5 453.05,225.2 453.22,225.2 453.40,224.8 453.58,225.4 453.76,225.6 453.94,225.2 454.12,225.7 454.29,225.8 454.47,225.6 454.65,225.5 454.83,225.2 455.01,225.3 455.19,225.4 455.36,225.6 455.54,225.7 455.72,225.5 455.90,225.6 456.08,225.7 456.26,225.6 456.43,225.7 456.61,225.7 456.79,225.8 456.97,225.6 457.15,225.9 457.33,226.0 457.51,225.5 457.68,225.6 457.86,225.6 458.04,225.8 458.22,225.5 458.40,225.4 458.58,225.4 458.75,225.1 458.93,224.8 459.11,225.1 459.29,225.1 459.47,225.3 459.65,225.1 459.82,225.1 460.00,225.3 460.18,224.7 460.36,225.0 460.54,224.5 460.72,223.9 460.89,224.9 461.07,223.8 461.25,224.7 461.43,224.4 461.61,224.7 461.79,224.7 461.96,224.1 462.14,224.1 462.32,224.4 462.50,224.4 462.68,223.3 462.86,223.9 463.03,224.3 463.21,224.2 463.39,224.1 463.57,223.7 463.75,224.1 463.93,223.6 464.10,223.5 464.28,223.7 464.46,223.7 464.64,223.4 464.82,223.2 465.00,223.4 465.17,223.4 465.35,222.6 465.53,223.1 465.71,222.6 465.89,222.8 466.07,223.2 466.24,222.9 466.42,223.1 466.60,222.0 466.78,220.6 466.96,213.5 467.14,211.0 467.31,210.6 467.49,210.3 467.67,211.0 467.85,210.0 468.03,210.4 468.21,211.1 468.38,210.9 468.56,211.0 468.74,210.6 468.92,210.5 469.10,210.3 469.28,210.3 469.45,211.0 469.63,210.4 469.81,211.0 469.99,210.4 470.17,210.8 470.35,210.9 470.52,210.4 470.70,210.6 470.88,210.9 471.06,210.7 471.24,210.8 471.42,210.6 471.59,211.3 471.77,211.2 471.95,211.7 472.13,211.8 472.31,212.2 472.49,212.6 472.66,213.0 472.84,212.4 473.02,213.3 473.20,213.6 473.38,214.1 473.56,213.8 473.73,214.2 473.91,214.7 474.09,215.0 474.27,215.4 474.45,215.8 474.63,216.1 474.80,216.3 474.98,216.7 475.16,216.7 475.34,217.2 475.52,217.4 475.70,217.5 475.87,217.9 476.05,218.1 476.23,217.9 476.41,218.5 476.59,219.1 476.77,219.1 476.94,219.3 477.12,219.2 477.30,220.0 477.48,220.2 477.66,220.3 477.84,220.2 478.01,221.1 478.19,221.5 478.37,221.5 478.55,221.3 478.73,221.7 478.91,221.6 479.08,222.1 479.26,221.9 479.44,222.2 479.62,222.6 479.80,223.0 479.98,222.7 480.15,223.2 480.33,223.1 480.51,222.9 480.69,222.4 480.87,223.8 481.05,223.9 481.22,224.1 481.40,224.0 481.58,224.4 481.76,223.8 481.94,224.7 482.12,224.5 482.29,224.5 482.47,224.1 482.65,225.0 482.83,224.8 483.01,224.6 483.19,224.8 483.36,224.9 483.54,225.0 483.72,225.1 483.90,225.3 484.08,225.1 484.26,225.4 484.43,225.7 484.61,225.6 484.79,225.5 484.97,225.5 485.15,225.7 485.33,225.3 485.50,225.8 485.68,225.7 485.86,225.8 486.04,225.8 486.22,225.8 486.40,225.8 486.57,225.0 486.75,225.4 486.93,225.6 487.11,225.8 487.29,225.6 487.47,225.5 487.64,225.6 487.82,225.7 488.00,225.4 488.18,225.2 488.36,225.5 488.54,225.7 488.71,225.4 488.89,225.3 489.07,225.3 489.25,225.3 489.43,225.3 489.61,225.6 489.78,225.3 489.96,225.0 490.14,224.9 490.32,224.9 490.50,224.9 490.68,225.1 490.85,224.8 491.03,225.0 491.21,224.6 491.39,224.6 491.57,224.6 491.75,224.3 491.92,224.5 492.10,224.8 492.28,224.2 492.46,224.4 492.64,224.0 492.82,224.2 492.99,223.7 493.17,224.2 493.35,224.0 493.53,224.1 493.71,224.0 493.89,223.6 494.06,223.9 494.24,224.0 494.42,223.7 494.60,224.0 494.78,223.4 494.96,223.7 495.13,223.5 495.31,223.1 495.49,223.6 495.67,223.2 495.85,223.5 496.03,223.3 496.20,223.2 496.38,223.0 496.56,222.8 496.74,223.3 496.92,222.9 497.10,223.0 497.27,222.6 497.45,215.9 497.63,210.5 497.81,210.9 497.99,210.3 498.17,211.0 498.34,210.8 498.52,210.2 498.70,211.1 498.88,211.1 499.06,210.8 499.24,211.0 499.41,210.9 499.59,210.7 499.77,211.1 499.95,210.8 500.13,210.5 500.31,210.6 500.48,211.1 500.66,210.8 500.84,210.5 501.02,210.3 501.20,210.2 501.38,210.4 501.55,210.5 501.73,211.0 501.91,210.2 502.09,210.5 502.27,211.1 502.45,211.4 502.62,212.2 502.80,212.3 502.98,212.8 503.16,212.7 503.34,213.3 503.52,213.0 503.69,213.8 503.87,214.1 504.05,213.9 504.23,213.9 504.41,214.8 504.59,215.2 504.76,215.4 504.94,215.6 505.12,216.0 505.30,216.2 505.48,216.0 505.66,216.1 505.83,217.0 506.01,217.5 506.19,217.3 506.37,217.9 506.55,218.3 506.73,218.4 506.90,218.6 507.08,219.2 507.26,219.5 507.44,219.0 507.62,219.9 507.80,220.2 507.97,219.9 508.15,220.7 508.33,221.1 508.51,220.5 508.69,221.4 508.87,221.3 509.04,221.4 509.22,221.2 509.40,221.6 509.58,221.6 509.76,222.4 509.94,222.6 510.11,222.7 510.29,222.8 510.47,223.0 510.65,222.3 510.83,223.2 511.01,223.6 511.18,223.4 511.36,223.9 511.54,223.1 511.72,224.1 511.90,224.3 512.08,223.8 512.25,224.3 512.43,224.7 512.61,224.6 512.79,224.8 512.97,224.6 513.15,224.7 513.32,224.8 513.50,225.1 513.68,225.2 513.86,225.1 514.04,225.4 514.22,225.1 514.39,225.2 514.57,225.5 514.75,225.2 514.93,225.5 515.11,225.7 515.29,225.4 515.46,225.6 515.64,225.6 515.82,225.8 516.00,225.8 516.18,225.8 516.36,225.5 516.53,225.2 516.71,225.5 516.89,225.8 517.07,225.5 517.25,225.8 517.43,225.8 517.60,225.9 517.78,224.8 517.96,225.5 518.14,225.5 518.32,225.8 518.50,225.7 518.67,225.0 518.85,225.8 519.03,225.5 519.21,225.4 519.39,225.6 519.57,225.1 519.74,225.6 519.92,225.5 520.10,225.4 520.28,224.4 520.46,225.4 520.64,225.4 520.81,224.8 520.99,225.1 521.17,225.3 521.35,224.9 521.53,225.1 521.71,224.9 521.88,224.8 522.06,224.9 522.24,224.7 522.42,224.8 522.60,224.8 522.78,224.5 522.95,224.3 523.13,224.3 523.31,224.5 523.49,224.0 523.67,224.2 523.85,223.9 524.02,224.2 524.20,224.3 524.38,224.0 524.56,223.8 524.74,223.8 524.92,223.1 525.09,223.9 525.27,223.9 525.45,223.4 525.63,223.6 525.81,223.3 525.99,223.2 526.16,223.2 526.34,222.1 526.52,223.5 526.70,223.4 526.88,223.3 527.06,222.9 527.23,222.8 527.41,223.1 527.59,223.2 527.77,222.8 527.95,219.5 528.13,219.2 528.13,278.0 527.95,277.7 527.77,274.4 527.59,274.0 527.41,274.1 527.23,274.4 527.06,274.3 526.88,273.9 526.70,273.8 526.52,273.7 526.34,275.1 526.16,274.0 525.99,274.0 525.81,273.9 525.63,273.6 525.45,273.8 525.27,273.3 525.09,273.3 524.92,274.1 524.74,273.4 524.56,273.4 524.38,273.2 524.20,272.9 524.02,273.0 523.85,273.3 523.67,273.0 523.49,273.2 523.31,272.7 523.13,272.9 522.95,272.9 522.78,272.7 522.60,272.4 522.42,272.4 522.24,272.5 522.06,272.3 521.88,272.4 521.71,272.3 521.53,272.1 521.35,272.3 521.17,271.9 520.99,272.1 520.81,272.4 520.64,271.8 520.46,271.8 520.28,272.8 520.10,271.8 519.92,271.7 519.74,271.6 519.57,272.1 519.39,271.6 519.21,271.8 519.03,271.7 518.85,271.4 518.67,272.2 518.50,271.5 518.32,271.4 518.14,271.7 517.96,271.7 517.78,272.4 517.60,271.3 517.43,271.4 517.25,271.4 517.07,271.7 516.89,271.4 516.71,271.7 516.53,272.0 516.36,271.7 516.18,271.4 516.00,271.4 515.82,271.4 515.64,271.6 515.46,271.6 515.29,271.8 515.11,271.5 514.93,271.7 514.75,272.0 514.57,271.7 514.39,272.0 514.22,272.1 514.04,271.8 513.86,272.1 513.68,272.0 513.50,272.1 513.32,272.4 513.15,272.5 512.97,272.6 512.79,272.4 512.61,272.6 512.43,272.5 512.25,272.9 512.08,273.4 511.90,272.9 511.72,273.1 511.54,274.1 511.36,273.3 511.18,273.8 511.01,273.6 510.83,274.0 510.65,274.9 510.47,274.2 510.29,274.4 510.11,274.5 509.94,274.6 509.76,274.8 509.58,275.6 509.40,275.6 509.22,276.0 509.04,275.8 508.87,275.9 508.69,275.8 508.51,276.7 508.33,276.1 508.15,276.5 507.97,277.3 507.80,277.0 507.62,277.3 507.44,278.2 507.26,277.7 507.08,278.0 506.90,278.6 506.73,278.8 506.55,278.9 506.37,279.3 506.19,279.9 506.01,279.7 505.83,280.2 505.66,281.1 505.48,281.2 505.30,281.0 505.12,281.2 504.94,281.6 504.76,281.8 504.59,282.0 504.41,282.4 504.23,283.3 504.05,283.3 503.87,283.1 503.69,283.4 503.52,284.2 503.34,283.9 503.16,284.5 502.98,284.4 502.80,284.9 502.62,285.0 502.45,285.8 502.27,286.1 502.09,286.7 501.91,287.0 501.73,286.2 501.55,286.7 501.38,286.8 501.20,287.0 501.02,286.9 500.84,286.7 500.66,286.4 500.48,286.1 500.31,286.6 500.13,286.7 499.95,286.4 499.77,286.1 499.59,286.5 499.41,286.3 499.24,286.2 499.06,286.4 498.88,286.1 498.70,286.1 498.52,287.0 498.34,286.4 498.17,286.2 497.99,286.9 497.81,286.3 497.63,286.7 497.45,281.3 497.27,274.6 497.10,274.2 496.92,274.3 496.74,273.9 496.56,274.4 496.38,274.2 496.20,274.0 496.03,273.9 495.85,273.7 495.67,274.0 495.49,273.6 495.31,274.1 495.13,273.7 494.96,273.5 494.78,273.8 494.60,273.2 494.42,273.5 494.24,273.2 494.06,273.3 493.89,273.6 493.71,273.2 493.53,273.1 493.35,273.2 493.17,273.0 492.99,273.5 492.82,273.0 492.64,273.2 492.46,272.8 492.28,273.0 492.10,272.4 491.92,272.7 491.75,272.9 491.57,272.6 491.39,272.6 491.21,272.6 491.03,272.2 490.85,272.4 490.68,272.1 490.50,272.3 490.32,272.3 490.14,272.3 489.96,272.2 489.78,271.9 489.61,271.6 489.43,271.9 489.25,271.9 489.07,271.9 488.89,271.9 488.71,271.8 488.54,271.5 488.36,271.7 488.18,272.0 488.00,271.8 487.82,271.5 487.64,271.6 487.47,271.7 487.29,271.6 487.11,271.4 486.93,271.6 486.75,271.8 486.57,272.2 486.40,271.4 486.22,271.4 486.04,271.4 485.86,271.4 485.68,271.5 485.50,271.4 485.33,271.9 485.15,271.5 484.97,271.7 484.79,271.7 484.61,271.6 484.43,271.5 484.26,271.8 484.08,272.1 483.90,271.9 483.72,272.1 483.54,272.2 483.36,272.3 483.19,272.4 483.01,272.6 482.83,272.4 482.65,272.2 482.47,273.1 482.29,272.7 482.12,272.7 481.94,272.5 481.76,273.4 481.58,272.8 481.40,273.2 481.22,273.1 481.05,273.3 480.87,273.4 480.69,274.8 480.51,274.3 480.33,274.1 480.15,274.0 479.98,274.5 479.80,274.2 479.62,274.6 479.44,275.0 479.26,275.3 479.08,275.1 478.91,275.6 478.73,275.5 478.55,275.9 478.37,275.7 478.19,275.7 478.01,276.1 477.84,277.0 477.66,276.9 477.48,277.0 477.30,277.2 477.12,278.0 476.94,277.9 476.77,278.1 476.59,278.1 476.41,278.7 476.23,279.3 476.05,279.1 475.87,279.3 475.70,279.7 475.52,279.8 475.34,280.0 475.16,280.5 474.98,280.5 474.80,280.9 474.63,281.1 474.45,281.4 474.27,281.8 474.09,282.2 473.91,282.5 473.73,283.0 473.56,283.4 473.38,283.1 473.20,283.6 473.02,283.9 472.84,284.8 472.66,284.2 472.49,284.6 472.31,285.0 472.13,285.4 471.95,285.5 471.77,286.0 471.59,285.9 471.42,286.6 471.24,286.4 471.06,286.5 470.88,286.3 470.70,286.6 470.52,286.8 470.35,286.3 470.17,286.4 469.99,286.8 469.81,286.2 469.63,286.8 469.45,286.2 469.28,286.9 469.10,286.9 468.92,286.7 468.74,286.6 468.56,286.2 468.38,286.3 468.21,286.1 468.03,286.8 467.85,287.2 467.67,286.2 467.49,286.9 467.31,286.6 467.14,286.2 466.96,283.7 466.78,276.6 466.60,275.2 466.42,274.1 466.24,274.3 466.07,274.0 465.89,274.4 465.71,274.6 465.53,274.1 465.35,274.6 465.17,273.8 465.00,273.8 464.82,274.0 464.64,273.8 464.46,273.5 464.28,273.5 464.10,273.7 463.93,273.6 463.75,273.1 463.57,273.5 463.39,273.1 463.21,273.0 463.03,272.9 462.86,273.3 462.68,273.9 462.50,272.8 462.32,272.8 462.14,273.1 461.96,273.1 461.79,272.5 461.61,272.5 461.43,272.8 461.25,272.5 461.07,273.4 460.89,272.3 460.72,273.3 460.54,272.7 460.36,272.2 460.18,272.5 460.00,271.9 459.82,272.1 459.65,272.1 459.47,271.9 459.29,272.1 459.11,272.1 458.93,272.4 458.75,272.1 458.58,271.8 458.40,271.8 458.22,271.7 458.04,271.4 457.86,271.6 457.68,271.6 457.51,271.7 457.33,271.2 457.15,271.3 456.97,271.6 456.79,271.4 456.61,271.5 456.43,271.5 456.26,271.6 456.08,271.5 455.90,271.6 455.72,271.7 455.54,271.5 455.36,271.6 455.19,271.8 455.01,271.9 454.83,272.0 454.65,271.7 454.47,271.6 454.29,271.4 454.12,271.5 453.94,272.0 453.76,271.6 453.58,271.8 453.40,272.4 453.22,272.0 453.05,272.0 452.87,272.7 452.69,272.4 452.51,272.4 452.33,272.3 452.15,272.2 451.98,272.5 451.80,273.0 451.62,272.7 451.44,272.7 451.26,272.7 451.08,272.6 450.91,273.6 450.73,272.9 450.55,273.3 450.37,273.9 450.19,273.6 450.01,274.0 449.84,274.3 449.66,274.1 449.48,274.4 449.30,274.5 449.12,274.3 448.94,275.1 448.77,275.4 448.59,275.0 448.41,275.4 448.23,275.3 448.05,275.7 447.87,275.9 447.70,276.3 447.52,276.0 447.34,276.2 447.16,276.6 446.98,277.0 446.80,277.4 446.63,277.1 446.45,277.5 446.27,277.7 446.09,277.8 445.91,278.7 445.73,278.7 445.56,279.0 445.38,279.5 445.20,280.0 445.02,279.7 444.84,280.1 444.66,280.6 444.49,280.6 444.31,280.7 444.13,281.5 443.95,281.3 443.77,281.8 443.59,282.3 443.42,282.0 443.24,282.6 443.06,282.6 442.88,283.0 442.70,283.2 442.52,283.4 442.35,283.9 442.17,284.5 441.99,284.3 441.81,284.5 441.63,285.1 441.45,285.7 441.28,285.5 441.10,285.7 440.92,285.9 440.74,286.5 440.56,286.7 440.38,286.9 440.21,286.2 440.03,286.4 439.85,286.8 439.67,286.7 439.49,286.2 439.31,286.4 439.14,286.7 438.96,286.6 438.78,286.5 438.60,286.2 438.42,286.5 438.24,286.2 438.07,286.7 437.89,286.4 437.71,286.1 437.53,286.4 437.35,286.4 437.17,287.0 437.00,286.1 436.82,286.5 436.64,286.4 436.46,285.4 436.28,278.2 436.10,274.2 435.93,274.0 435.75,274.3 435.57,274.0 435.39,274.3 435.21,274.2 435.03,274.6 434.86,274.4 434.68,273.7 434.50,274.2 434.32,273.6 434.14,273.5 433.96,273.5 433.79,273.4 433.61,273.9 433.43,273.7 433.25,273.8 433.07,273.8 432.89,273.8 432.72,273.4 432.54,272.9 432.36,273.4 432.18,273.4 432.00,273.0 431.82,273.2 431.65,272.6 431.47,272.8 431.29,272.8 431.11,272.8 430.93,272.9 430.75,272.4 430.58,273.1 430.40,273.0 430.22,272.2 430.04,273.0 429.86,272.1 429.68,272.4 429.51,272.1 429.33,272.9 429.15,272.1 428.97,271.8 428.79,271.8 428.61,271.7 428.44,271.8 428.26,271.6 428.08,272.1 427.90,271.7 427.72,271.5 427.54,271.5 427.37,271.3 427.19,271.9 427.01,271.5 426.83,271.6 426.65,271.3 426.47,271.4 426.30,271.6 426.12,271.5 425.94,271.9 425.76,271.4 425.58,271.3 425.40,271.5 425.23,271.5 425.05,271.7 424.87,271.5 424.69,271.9 424.51,271.7 424.33,271.6 424.16,271.4 423.98,271.4 423.80,271.9 423.62,271.6 423.44,271.5 423.26,271.6 423.09,271.6 422.91,271.8 422.73,271.8 422.55,271.8 422.37,271.9 422.19,272.4 422.02,272.2 421.84,272.2 421.66,272.9 421.48,272.6 421.30,273.1 421.12,272.7 420.95,272.7 420.77,272.5 420.59,272.9 420.41,273.1 420.23,273.0 420.05,273.0 419.88,273.4 419.70,273.7 419.52,273.6 419.34,274.0 419.16,273.9 418.98,274.3 418.81,274.4 418.63,274.3 418.45,274.5 418.27,275.0 418.09,274.8 417.91,275.0 417.74,275.3 417.56,275.6 417.38,275.6 417.20,275.7 417.02,275.8 416.84,276.2 416.67,276.7 416.49,276.8 416.31,277.3 416.13,277.2 415.95,277.5 415.77,278.2 415.60,278.0 415.42,278.2 415.24,278.4 415.06,278.8 414.88,279.1 414.70,279.5 414.53,280.0 414.35,279.9 414.17,280.0 413.99,280.9 413.81,280.5 413.63,281.2 413.46,281.6 413.28,281.7 413.10,282.0 412.92,282.2 412.74,282.4 412.56,282.6 412.39,283.2 412.21,283.5 412.03,284.1 411.85,283.7 411.67,284.3 411.49,284.8 411.32,284.7 411.14,284.9 410.96,285.0 410.78,285.2 410.60,285.7 410.42,286.0 410.25,286.5 410.07,286.4 409.89,286.6 409.71,287.1 409.53,286.1 409.35,286.3 409.18,286.2 409.00,287.0 408.82,286.9 408.64,286.3 408.46,286.3 408.28,286.2 408.11,286.7 407.93,286.2 407.75,286.3 407.57,286.4 407.39,286.4 407.21,286.5 407.04,286.4 406.86,286.1 406.68,286.4 406.50,286.4 406.32,286.2 406.14,286.4 405.97,286.3 405.79,280.1 405.61,274.3 405.43,274.0 405.25,274.1 405.07,274.5 404.90,274.0 404.72,274.0 404.54,274.1 404.36,273.7 404.18,273.8 404.00,273.5 403.83,273.7 403.65,273.5 403.47,273.3 403.29,273.6 403.11,273.5 402.93,273.3 402.76,273.6 402.58,273.3 402.40,272.9 402.22,272.9 402.04,274.0 401.86,273.0 401.69,272.9 401.51,272.8 401.33,272.8 401.15,273.0 400.97,272.6 400.79,272.8 400.62,272.4 400.44,272.4 400.26,272.3 400.08,272.3 399.90,272.4 399.72,272.3 399.55,272.0 399.37,272.1 399.19,272.4 399.01,272.0 398.83,272.2 398.65,272.3 398.48,272.1 398.30,272.2 398.12,271.7 397.94,271.8 397.76,271.7 397.58,271.4 397.41,271.7 397.23,271.5 397.05,271.2 396.87,271.5 396.69,271.2 396.51,271.2 396.34,271.8 396.16,271.6 395.98,271.3 395.80,271.9 395.62,271.9 395.44,271.4 395.27,271.6 395.09,271.4 394.91,272.3 394.73,271.9 394.55,271.6 394.37,271.7 394.20,271.5 394.02,271.8 393.84,271.5 393.66,271.6 393.48,272.1 393.30,271.9 393.13,271.8 392.95,271.9 392.77,272.5 392.59,272.9 392.41,272.0 392.23,273.2 392.06,272.4 391.88,272.5 391.70,272.7 391.52,273.0 391.34,272.8 391.16,272.8 390.99,273.0 390.81,273.1 390.63,273.3 390.45,273.4 390.27,273.6 390.09,273.9 389.92,273.9 389.74,274.4 389.56,274.3 389.38,274.4 389.20,274.7 389.02,274.8 388.85,275.5 388.67,275.3 388.49,276.5 388.31,275.8 388.13,275.9 387.95,276.5 387.78,276.5 387.60,277.0 387.42,277.1 387.24,277.1 387.06,277.5 386.88,277.7 386.71,278.3 386.53,278.2 386.35,278.7 386.17,278.5 385.99,279.3 385.81,279.3 385.64,279.9 385.46,279.7 385.28,280.0 385.10,280.9 384.92,280.5 384.74,280.8 384.56,281.4 384.39,282.0 384.21,281.6 384.03,281.9 383.85,282.1 383.67,283.3 383.49,282.9 383.32,283.7 383.14,283.4 382.96,283.5 382.78,284.0 382.60,284.1 382.42,284.9 382.25,285.1 382.07,285.1 381.89,285.2 381.71,285.5 381.53,286.0 381.35,285.6 381.18,286.1 381.00,286.2 380.82,286.1 380.64,286.2 380.46,286.6 380.28,286.7 380.11,287.4 379.93,286.8 379.75,287.9 379.57,286.9 379.39,287.3 379.21,287.4 379.04,287.5 378.86,287.2 378.68,287.2 378.50,287.0 378.32,287.0 378.14,287.4 377.97,287.1 377.79,287.6 377.61,288.0 377.43,287.7 377.25,287.1 377.07,287.4 376.90,287.4 376.72,287.2 376.54,287.3 376.36,288.0 376.18,287.3 376.00,287.3 375.83,287.4 375.65,287.6 375.47,288.0 375.29,287.5 375.11,287.3 374.93,287.5 374.76,287.5 374.58,287.5 374.40,287.8 374.22,287.5 374.04,288.0 373.86,287.4 373.69,288.0 373.51,287.5 373.33,287.6 373.15,287.5 372.97,287.7 372.79,288.1 372.62,288.2 372.44,287.5 372.26,287.8 372.08,287.8 371.90,288.0 371.72,288.8 371.55,287.7 371.37,288.1 371.19,288.0 371.01,287.9 370.83,288.0 370.65,287.9 370.48,288.2 370.30,287.9 370.12,287.9 369.94,287.9 369.76,287.8 369.58,288.3 369.41,288.0 369.23,288.2 369.05,287.9 368.87,288.2 368.69,288.5 368.51,288.4 368.34,288.1 368.16,289.1 367.98,288.5 367.80,287.9 367.62,288.0 367.44,287.9 367.27,287.9 367.09,288.1 366.91,288.4 366.73,288.2 366.55,288.1 366.37,287.9 366.20,288.6 366.02,288.1 365.84,288.3 365.66,288.0 365.48,288.1 365.30,288.1 365.13,288.9 364.95,288.7 364.77,288.2 364.59,288.6 364.41,288.4 364.23,288.5 364.06,288.0 363.88,288.2 363.70,288.1 363.52,288.9 363.34,288.3 363.16,288.1 362.99,288.6 362.81,288.6 362.63,288.3 362.45,288.1 362.27,288.4 362.09,288.3 361.92,288.7 361.74,288.3 361.56,288.6 361.38,288.4 361.20,288.8 361.02,288.5 360.85,288.6 360.67,288.2 360.49,288.4 360.31,288.5 360.13,288.6 359.95,288.3 359.78,288.2 359.60,288.6 359.42,288.6 359.24,288.4 359.06,288.2 358.88,288.2 358.71,288.2 358.53,288.4 358.35,288.6 358.17,287.9 357.99,288.2 357.81,288.3 357.64,288.6 357.46,287.9 357.28,288.3 357.10,288.3 356.92,287.9 356.74,287.9 356.57,288.5 356.39,288.0 356.21,288.0 356.03,287.9 355.85,288.0 355.67,288.1 355.50,287.6 355.32,287.8 355.14,287.9 354.96,287.8 354.78,287.7 354.60,287.4 354.43,287.9 354.25,287.5 354.07,288.1 353.89,287.5 353.71,287.8 353.53,287.8 353.36,287.9 353.18,287.4 353.00,287.4 352.82,287.5 352.64,287.4 352.46,287.7 352.29,287.5 352.11,287.6 351.93,287.0 351.75,287.6 351.57,287.4 351.39,287.5 351.22,287.1 351.04,287.7 350.86,286.8 350.68,286.9 350.50,286.9 350.32,287.1 350.15,286.8 349.97,287.4 349.79,286.8 349.61,287.1 349.43,287.0 349.25,287.4 349.08,286.7 348.90,287.1 348.72,287.2 348.54,286.5 348.36,286.8 348.18,286.5 348.01,286.4 347.83,287.0 347.65,286.4 347.47,286.3 347.29,286.2 347.11,286.4 346.94,286.8 346.76,286.5 346.58,286.1 346.40,286.6 346.22,286.1 346.04,286.5 345.87,286.7 345.69,286.4 345.51,286.0 345.33,286.2 345.15,285.9 344.97,285.8 344.80,283.8 344.62,276.2 344.44,272.9 344.26,273.1 344.08,272.7 343.90,272.7 343.73,273.2 343.55,272.8 343.37,272.8 343.19,273.4 343.01,272.6 342.83,272.7 342.66,272.8 342.48,272.8 342.30,272.5 342.12,272.6 341.94,272.3 341.76,272.5 341.59,272.7 341.41,272.5 341.23,272.2 341.05,271.9 340.87,272.7 340.69,272.4 340.52,272.1 340.34,271.8 340.16,271.7 339.98,272.2 339.80,271.8 339.62,271.8 339.45,271.5 339.27,271.7 339.09,271.3 338.91,271.8 338.73,271.3 338.55,271.5 338.38,271.9 338.20,271.3 338.02,271.3 337.84,271.6 337.66,271.5 337.48,271.5 337.31,271.4 337.13,271.8 336.95,271.7 336.77,271.9 336.59,271.9 336.41,271.5 336.24,271.7 336.06,271.4 335.88,271.6 335.70,272.4 335.52,271.9 335.34,271.5 335.17,272.2 334.99,271.4 334.81,271.4 334.63,272.0 334.45,271.6 334.27,271.7 334.10,271.4 333.92,271.5 333.74,271.9 333.56,271.8 333.38,271.5 333.20,272.0 333.03,272.0 332.85,272.1 332.67,272.1 332.49,272.0 332.31,272.1 332.13,272.0 331.96,271.9 331.78,272.3 331.60,272.3 331.42,272.1 331.24,272.2 331.06,272.4 330.89,272.2 330.71,272.3 330.53,272.5 330.35,272.3 330.17,272.7 329.99,272.7 329.82,272.6 329.64,272.9 329.46,273.1 329.28,272.9 329.10,273.3 328.92,273.9 328.75,274.1 328.57,273.4 328.39,273.8 328.21,273.6 328.03,274.0 327.85,274.1 327.68,274.1 327.50,274.5 327.32,274.7 327.14,274.6 326.96,275.2 326.78,275.4 326.61,275.5 326.43,275.6 326.25,276.4 326.07,275.9 325.89,276.8 325.71,277.7 325.54,277.5 325.36,277.2 325.18,278.4 325.00,278.1 324.82,278.5 324.64,279.2 324.47,279.0 324.29,279.1 324.11,279.8 323.93,279.8 323.75,280.2 323.57,281.1 323.40,281.4 323.22,281.1 323.04,281.5 322.86,282.1 322.68,282.0 322.50,282.4 322.33,282.6 322.15,283.5 321.97,283.9 321.79,283.8 321.61,283.9 321.43,284.0 321.26,284.8 321.08,284.9 320.90,285.3 320.72,285.4 320.54,286.0 320.36,285.8 320.19,286.1 320.01,286.5 319.83,286.2 319.65,286.3 319.47,286.8 319.29,286.3 319.12,286.6 318.94,286.8 318.76,286.6 318.58,286.5 318.40,286.3 318.22,286.1 318.05,286.1 317.87,286.2 317.69,286.2 317.51,286.7 317.33,286.1 317.15,286.2 316.98,286.4 316.80,286.3 316.62,286.1 316.44,286.4 316.26,286.5 316.08,286.3 315.91,286.4 315.73,286.4 315.55,286.6 315.37,286.8 315.19,286.2 315.01,287.3 314.84,286.5 314.66,286.5 314.48,286.6 314.30,286.3" fill="#0072BD"/>
<rect x="314.3" y="197.6" width="229.09999999999997" height="101.79999999999998" fill="none" stroke="#a6a6a6" stroke-width="0.9"/>
<path d="M390.7 299.4v-1.8M390.7 197.6v1.8M467.0 299.4v-1.8M467.0 197.6v1.8M314.3 248.6h1.8M543.4 248.6h-1.8" stroke="#777" stroke-width="0.7"/>
<g font-family="Liberation Sans, Arial, sans-serif" fill="#3a3a3a" font-size="6">
<text x="312.4" y="200.0" text-anchor="end">5</text>
<text x="312.4" y="251.0" text-anchor="end">0</text>
<text x="312.4" y="301.8" text-anchor="end">-5</text>
<text x="314.3" y="307.8" text-anchor="middle">0</text>
<text x="390.7" y="307.8" text-anchor="middle">5</text>
<text x="467.0" y="307.8" text-anchor="middle">10</text>
<text x="543.4" y="307.8" text-anchor="middle">15</text>
<text x="315.2" y="196.2" font-size="6.6">×<tspan dx="0.8">10</tspan><tspan dy="-2.7" font-size="4.8">-6</tspan></text>
<text x="429" y="317" font-size="6.6" text-anchor="middle" textLength="22.8" lengthAdjust="spacingAndGlyphs">Time(s)</text>
<text transform="translate(304.3 249.2) rotate(-90)" font-size="6.6" text-anchor="middle" textLength="38.4" lengthAdjust="spacingAndGlyphs">Amplitude(V)</text>
</g>
<text x="408" y="333.4" font-family="Liberation Serif, serif" font-weight="bold" font-size="14" text-anchor="middle" fill="#111">(c)</text>
</svg>
</body></html>
